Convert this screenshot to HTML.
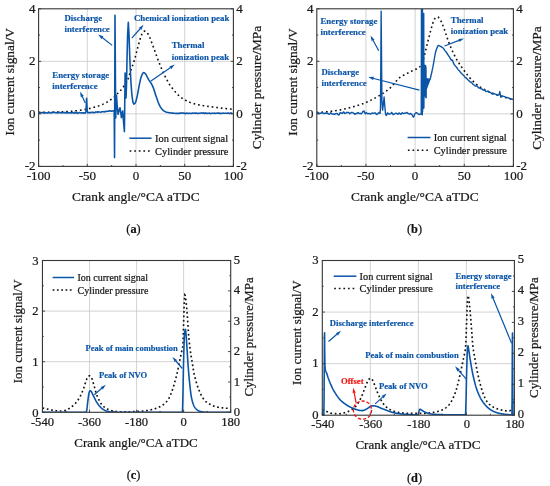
<!DOCTYPE html>
<html lang="en"><head><meta charset="utf-8"><title>Ion current signal and cylinder pressure</title>
<style>html,body{margin:0;padding:0;background:#fff}svg{display:block}text{font-family:"Liberation Serif","Times New Roman",serif}</style></head>
<body>
<svg width="550" height="486" viewBox="0 0 550 486" font-family="'Liberation Serif', 'Times New Roman', serif">
<rect width="550" height="486" fill="#fff"/>
<defs>
<clipPath id="ca"><rect x="38.6" y="8.8" width="194.80" height="157.60"/></clipPath>
<clipPath id="cb"><rect x="316.8" y="8.8" width="196.60" height="157.60"/></clipPath>
<clipPath id="cc"><rect x="42.45" y="260.5" width="188.25" height="151.80"/></clipPath>
<clipPath id="cd"><rect x="322.3" y="260.5" width="192.10" height="154.70"/></clipPath>
</defs>
<line x1="87.30" y1="8.8" x2="87.30" y2="166.4" stroke="#cbcbcb" stroke-width="0.85"/>
<line x1="136.00" y1="8.8" x2="136.00" y2="166.4" stroke="#cbcbcb" stroke-width="0.85"/>
<line x1="184.70" y1="8.8" x2="184.70" y2="166.4" stroke="#cbcbcb" stroke-width="0.85"/>
<line x1="38.6" y1="113.87" x2="233.4" y2="113.87" stroke="#cbcbcb" stroke-width="0.85"/>
<line x1="38.6" y1="61.33" x2="233.4" y2="61.33" stroke="#cbcbcb" stroke-width="0.85"/>
<path d="M38.60,112.40 L39.25,112.40 L39.90,112.40 L40.55,112.39 L41.21,112.39 L41.86,112.39 L42.51,112.38 L43.16,112.37 L43.81,112.37 L44.46,112.36 L45.12,112.35 L45.77,112.34 L46.42,112.33 L47.07,112.32 L47.72,112.30 L48.37,112.29 L49.02,112.28 L49.68,112.26 L50.33,112.25 L50.98,112.23 L51.63,112.22 L52.28,112.20 L52.93,112.19 L53.58,112.17 L54.24,112.16 L54.89,112.14 L55.54,112.12 L56.19,112.11 L56.84,112.09 L57.49,112.07 L58.15,112.05 L58.80,112.03 L59.45,112.00 L60.10,111.97 L60.75,111.95 L61.40,111.92 L62.05,111.89 L62.71,111.85 L63.36,111.82 L64.01,111.79 L64.66,111.75 L65.31,111.71 L65.96,111.68 L66.61,111.64 L67.27,111.60 L67.92,111.56 L68.57,111.52 L69.22,111.48 L69.87,111.44 L70.52,111.39 L71.18,111.34 L71.83,111.28 L72.48,111.22 L73.13,111.16 L73.78,111.09 L74.43,111.01 L75.08,110.94 L75.74,110.85 L76.39,110.77 L77.04,110.68 L77.69,110.58 L78.34,110.49 L78.99,110.39 L79.64,110.29 L80.30,110.19 L80.95,110.09 L81.60,109.99 L82.25,109.89 L82.90,109.78 L83.55,109.67 L84.21,109.56 L84.86,109.44 L85.51,109.33 L86.16,109.20 L86.81,109.08 L87.46,108.95 L88.11,108.81 L88.77,108.67 L89.42,108.53 L90.07,108.38 L90.72,108.22 L91.37,108.05 L92.02,107.88 L92.67,107.70 L93.33,107.51 L93.98,107.32 L94.63,107.13 L95.28,106.93 L95.93,106.73 L96.58,106.53 L97.24,106.32 L97.89,106.11 L98.54,105.89 L99.19,105.67 L99.84,105.43 L100.49,105.19 L101.14,104.94 L101.80,104.68 L102.45,104.41 L103.10,104.14 L103.75,103.85 L104.40,103.55 L105.05,103.23 L105.71,102.89 L106.36,102.53 L107.01,102.14 L107.66,101.74 L108.31,101.32 L108.96,100.89 L109.61,100.46 L110.27,100.02 L110.92,99.59 L111.57,99.15 L112.22,98.68 L112.87,98.19 L113.52,97.66 L114.17,97.08 L114.83,96.42 L115.48,95.74 L116.13,95.06 L116.78,94.38 L117.43,93.68 L118.08,92.98 L118.74,92.28 L119.39,91.59 L120.04,90.92 L120.69,90.25 L121.34,89.54 L121.99,88.76 L122.64,87.91 L123.30,87.01 L123.95,86.06 L124.60,85.10 L125.25,84.13 L125.90,83.11 L126.55,81.98 L127.20,80.75 L127.86,79.39 L128.51,77.81 L129.16,75.87 L129.81,73.77 L130.46,71.71 L131.11,69.80 L131.77,67.93 L132.42,66.04 L133.07,64.14 L133.72,62.25 L134.37,60.25 L135.02,57.99 L135.67,55.45 L136.33,52.90 L136.98,50.44 L137.63,48.00 L138.28,45.59 L138.93,43.20 L139.58,40.92 L140.23,38.68 L140.89,36.63 L141.54,34.99 L142.19,33.55 L142.84,32.48 L143.49,31.82 L144.14,31.31 L144.80,31.10 L145.45,31.27 L146.10,31.71 L146.75,32.26 L147.40,32.96 L148.05,33.94 L148.70,35.12 L149.36,36.41 L150.01,37.90 L150.66,39.66 L151.31,41.49 L151.96,43.24 L152.61,45.00 L153.26,46.77 L153.92,48.55 L154.57,50.34 L155.22,52.15 L155.87,53.96 L156.52,55.75 L157.17,57.49 L157.83,59.20 L158.48,60.89 L159.13,62.55 L159.78,64.22 L160.43,65.90 L161.08,67.57 L161.73,69.19 L162.39,70.74 L163.04,72.19 L163.69,73.59 L164.34,74.93 L164.99,76.23 L165.64,77.51 L166.29,78.76 L166.95,79.99 L167.60,81.20 L168.25,82.35 L168.90,83.44 L169.55,84.46 L170.20,85.43 L170.86,86.35 L171.51,87.24 L172.16,88.11 L172.81,88.95 L173.46,89.77 L174.11,90.56 L174.76,91.33 L175.42,92.07 L176.07,92.80 L176.72,93.51 L177.37,94.19 L178.02,94.83 L178.67,95.44 L179.33,96.03 L179.98,96.60 L180.63,97.14 L181.28,97.64 L181.93,98.10 L182.58,98.54 L183.23,98.96 L183.89,99.35 L184.54,99.73 L185.19,100.09 L185.84,100.44 L186.49,100.78 L187.14,101.11 L187.79,101.44 L188.45,101.75 L189.10,102.04 L189.75,102.31 L190.40,102.56 L191.05,102.80 L191.70,103.02 L192.36,103.23 L193.01,103.43 L193.66,103.62 L194.31,103.80 L194.96,103.97 L195.61,104.14 L196.26,104.30 L196.92,104.45 L197.57,104.59 L198.22,104.73 L198.87,104.86 L199.52,104.99 L200.17,105.11 L200.82,105.23 L201.48,105.34 L202.13,105.45 L202.78,105.56 L203.43,105.67 L204.08,105.77 L204.73,105.87 L205.39,105.97 L206.04,106.07 L206.69,106.16 L207.34,106.25 L207.99,106.34 L208.64,106.44 L209.29,106.53 L209.95,106.62 L210.60,106.71 L211.25,106.80 L211.90,106.89 L212.55,106.98 L213.20,107.06 L213.85,107.15 L214.51,107.24 L215.16,107.32 L215.81,107.41 L216.46,107.49 L217.11,107.57 L217.76,107.66 L218.42,107.74 L219.07,107.82 L219.72,107.90 L220.37,107.98 L221.02,108.06 L221.67,108.13 L222.32,108.21 L222.98,108.28 L223.63,108.35 L224.28,108.42 L224.93,108.49 L225.58,108.56 L226.23,108.62 L226.88,108.69 L227.54,108.75 L228.19,108.82 L228.84,108.88 L229.49,108.94 L230.14,109.01 L230.79,109.07 L231.45,109.13 L232.10,109.19 L232.75,109.24 L233.40,109.30" fill="none" stroke="#111" stroke-width="1.6" stroke-dasharray="1.7 2.9" clip-path="url(#ca)"/>
<path d="M38.60,112.82 L39.40,112.89 L40.20,112.75 L41.00,112.59 L41.80,112.70 L42.60,112.57 L43.40,112.83 L44.20,113.15 L45.00,112.69 L45.80,112.66 L46.60,112.94 L47.40,112.91 L48.20,112.84 L49.00,112.58 L49.80,112.81 L50.60,112.99 L51.40,112.48 L52.20,112.70 L53.00,112.34 L53.80,112.49 L54.60,112.36 L55.40,112.76 L56.20,112.50 L57.00,112.88 L57.80,112.86 L58.60,112.77 L59.40,112.19 L60.20,112.68 L61.00,112.80 L61.80,112.84 L62.60,112.43 L63.40,112.70 L64.20,112.57 L65.00,112.61 L65.80,113.08 L66.60,112.61 L67.40,112.81 L68.20,113.04 L69.00,112.67 L69.80,112.79 L70.60,112.84 L71.40,112.83 L72.20,112.51 L73.00,112.84 L73.80,113.16 L74.60,112.43 L75.40,113.03 L76.20,112.85 L77.00,112.66 L77.80,113.32 L78.60,113.01 L79.40,112.52 L80.20,112.83 L81.00,112.96 L81.80,112.77 L82.60,112.99 L83.40,112.80 L84.20,112.98 L85.00,113.18 L86.00,111.82 L86.60,98.20 L87.20,110.82 L87.80,112.82 L88.40,112.45 L89.20,112.66 L90.00,112.47 L90.80,112.59 L91.60,112.23 L92.40,112.35 L93.20,112.40 L94.00,112.63 L94.80,112.65 L95.60,111.99 L96.40,112.07 L97.20,112.37 L98.00,111.66 L98.80,111.98 L99.60,112.01 L100.40,112.28 L101.20,112.08 L102.00,111.76 L102.80,111.68 L103.60,111.63 L104.40,112.00 L105.20,111.44 L106.00,111.39 L106.80,111.48 L107.60,111.28 L108.40,111.18 L109.20,110.86 L110.00,111.05 L110.80,110.86 L111.60,111.17 L112.40,110.95 L113.20,110.69 L114.20,111.00 L114.55,157.60 L115.00,15.20 L115.70,118.00 L116.50,95.40 L117.20,106.00 L118.10,114.30 L119.20,110.00 L120.00,107.70 L120.80,113.00 L121.40,117.60 L122.10,113.00 L122.70,111.00 L123.40,120.00 L124.40,131.60 L124.80,100.00 L125.10,73.00 L125.50,90.00 L126.00,97.90 L126.50,85.00 L127.00,60.00 L127.60,35.00 L128.30,22.30 L129.00,34.00 L129.80,58.00 L130.80,80.00 L131.80,94.00 L132.80,101.50 L133.70,104.10 L134.22,103.93 L134.75,103.50 L135.27,102.91 L135.79,101.69 L136.31,99.81 L136.84,97.67 L137.36,95.41 L137.88,92.71 L138.41,89.77 L138.93,86.86 L139.45,84.22 L139.97,81.82 L140.50,79.47 L141.02,77.41 L141.54,75.90 L142.06,74.70 L142.59,73.62 L143.11,72.87 L143.63,72.60 L144.16,72.74 L144.68,73.07 L145.20,73.52 L145.72,74.05 L146.25,74.92 L146.77,76.01 L147.29,77.11 L147.82,78.07 L148.34,79.03 L148.86,79.96 L149.38,80.82 L149.91,81.56 L150.43,82.21 L150.95,82.92 L151.47,83.80 L152.00,84.80 L152.52,85.90 L153.04,87.10 L153.57,88.47 L154.09,90.01 L154.61,91.66 L155.13,93.34 L155.66,94.98 L156.18,96.52 L156.70,98.07 L157.23,99.61 L157.75,101.09 L158.27,102.45 L158.79,103.67 L159.32,104.82 L159.84,105.90 L160.36,106.86 L160.88,107.68 L161.41,108.39 L161.93,109.07 L162.45,109.69 L162.98,110.23 L163.50,110.67 L164.02,111.01 L164.54,111.28 L165.07,111.53 L165.59,111.76 L166.11,111.96 L166.64,112.15 L167.16,112.31 L167.68,112.45 L168.20,112.56 L168.73,112.66 L169.25,112.73 L169.77,112.80 L170.29,112.87 L170.82,112.93 L171.34,112.99 L171.86,113.04 L172.39,113.09 L172.91,113.12 L173.43,113.16 L173.95,113.18 L174.48,113.19 L175.00,113.20 L175.80,113.43 L176.60,113.23 L177.40,113.51 L178.20,113.30 L179.00,113.42 L179.80,113.04 L180.60,113.37 L181.40,112.96 L182.20,112.89 L183.00,113.24 L183.80,113.12 L184.60,113.33 L185.40,113.75 L186.20,113.13 L187.00,113.18 L187.80,113.34 L188.60,113.40 L189.40,113.26 L190.20,113.26 L191.00,113.44 L191.80,113.40 L192.60,113.09 L193.40,113.28 L194.20,113.31 L195.00,113.09 L195.80,113.35 L196.60,113.13 L197.40,113.49 L198.20,113.34 L199.00,113.32 L199.80,113.18 L200.60,113.28 L201.40,112.90 L202.20,113.07 L203.00,113.37 L203.80,112.87 L204.60,113.47 L205.40,112.95 L206.20,113.45 L207.00,113.13 L207.80,113.46 L208.60,113.33 L209.40,112.99 L210.20,113.55 L211.00,113.59 L211.80,113.29 L212.60,113.25 L213.40,113.27 L214.20,113.10 L215.00,113.52 L215.80,113.19 L216.60,113.29 L217.40,113.14 L218.20,113.17 L219.00,113.04 L219.80,113.55 L220.60,113.27 L221.40,113.49 L222.20,113.30 L223.00,113.16 L223.80,113.23 L224.60,113.19 L225.40,113.30 L226.20,113.22 L227.00,113.24 L227.80,113.02 L228.60,113.14 L229.40,113.63 L230.20,113.17 L231.00,113.09 L231.80,113.37 L232.60,113.58" fill="none" stroke="#0b55a8" stroke-width="1.6" stroke-linejoin="round" clip-path="url(#ca)"/>
<rect x="38.6" y="8.8" width="194.80" height="157.60" fill="none" stroke="#363636" stroke-width="1.1"/>
<path d="M38.60,166.4v-2.6M87.30,166.4v-2.6M136.00,166.4v-2.6M184.70,166.4v-2.6M233.40,166.4v-2.6M62.95,166.4v-1.4M111.65,166.4v-1.4M160.35,166.4v-1.4M209.05,166.4v-1.4M38.6,166.40h2.6M38.6,113.87h2.6M38.6,61.33h2.6M38.6,8.80h2.6M38.6,140.13h1.4M38.6,87.60h1.4M38.6,35.07h1.4M233.4,166.40h-2.6M233.4,113.87h-2.6M233.4,61.33h-2.6M233.4,8.80h-2.6M233.4,140.13h-1.4M233.4,87.60h-1.4M233.4,35.07h-1.4" stroke="#363636" stroke-width="0.9" fill="none"/>
<text x="35.60" y="12.60" font-size="13.0" text-anchor="end" font-weight="normal" fill="#1a1a1a" stroke="#1a1a1a" stroke-width="0.24">4</text>
<text x="236.20" y="12.60" font-size="13.0" text-anchor="start" font-weight="normal" fill="#1a1a1a" stroke="#1a1a1a" stroke-width="0.24">4</text>
<text x="35.60" y="65.13" font-size="13.0" text-anchor="end" font-weight="normal" fill="#1a1a1a" stroke="#1a1a1a" stroke-width="0.24">2</text>
<text x="236.20" y="65.13" font-size="13.0" text-anchor="start" font-weight="normal" fill="#1a1a1a" stroke="#1a1a1a" stroke-width="0.24">2</text>
<text x="35.60" y="117.67" font-size="13.0" text-anchor="end" font-weight="normal" fill="#1a1a1a" stroke="#1a1a1a" stroke-width="0.24">0</text>
<text x="236.20" y="117.67" font-size="13.0" text-anchor="start" font-weight="normal" fill="#1a1a1a" stroke="#1a1a1a" stroke-width="0.24">0</text>
<text x="35.60" y="170.20" font-size="13.0" text-anchor="end" font-weight="normal" fill="#1a1a1a" stroke="#1a1a1a" stroke-width="0.24">-2</text>
<text x="236.20" y="170.20" font-size="13.0" text-anchor="start" font-weight="normal" fill="#1a1a1a" stroke="#1a1a1a" stroke-width="0.24">-2</text>
<text x="38.60" y="180.30" font-size="13.0" text-anchor="middle" font-weight="normal" fill="#1a1a1a" stroke="#1a1a1a" stroke-width="0.24">-100</text>
<text x="87.30" y="180.30" font-size="13.0" text-anchor="middle" font-weight="normal" fill="#1a1a1a" stroke="#1a1a1a" stroke-width="0.24">-50</text>
<text x="136.00" y="180.30" font-size="13.0" text-anchor="middle" font-weight="normal" fill="#1a1a1a" stroke="#1a1a1a" stroke-width="0.24">0</text>
<text x="184.70" y="180.30" font-size="13.0" text-anchor="middle" font-weight="normal" fill="#1a1a1a" stroke="#1a1a1a" stroke-width="0.24">50</text>
<text x="233.40" y="180.30" font-size="13.0" text-anchor="middle" font-weight="normal" fill="#1a1a1a" stroke="#1a1a1a" stroke-width="0.24">100</text>
<text x="72.00" y="200.90" font-size="13.35" text-anchor="start" font-weight="normal" fill="#1a1a1a" stroke="#1a1a1a" stroke-width="0.24">Crank angle/°CA aTDC</text>
<text x="14.40" y="135.50" font-size="13.35" text-anchor="start" font-weight="normal" fill="#1a1a1a" stroke="#1a1a1a" stroke-width="0.24" transform="rotate(-90 14.40 135.50)">Ion current signal/V</text>
<text x="261.20" y="149.20" font-size="13.35" text-anchor="start" font-weight="normal" fill="#1a1a1a" stroke="#1a1a1a" stroke-width="0.24" transform="rotate(-90 261.20 149.20)">Cylinder pressure/MPa</text>
<line x1="129.3" y1="138.2" x2="151.6" y2="138.2" stroke="#0b55a8" stroke-width="1.5"/>
<line x1="129.6" y1="150.9" x2="151.6" y2="150.9" stroke="#111" stroke-width="1.5" stroke-dasharray="1.7 2.9"/>
<text x="155.10" y="141.50" font-size="10.35" text-anchor="start" font-weight="normal" fill="#1a1a1a" stroke="#1a1a1a" stroke-width="0.24">Ion current signal</text>
<text x="155.10" y="154.60" font-size="10.35" text-anchor="start" font-weight="normal" fill="#1a1a1a" stroke="#1a1a1a" stroke-width="0.24">Cylinder pressure</text>
<text x="64.50" y="20.80" font-size="8.8" text-anchor="start" font-weight="bold" fill="#0b55a8" stroke="#0b55a8" stroke-width="0.16">Discharge</text>
<text x="64.50" y="31.80" font-size="8.8" text-anchor="start" font-weight="bold" fill="#0b55a8" stroke="#0b55a8" stroke-width="0.16">interference</text>
<line x1="112.20" y1="45.40" x2="101.82" y2="37.24" stroke="#0b55a8" stroke-width="1.2"/>
<polygon points="98.20,34.40 103.65,36.52 102.13,37.49 101.55,39.20" fill="#0b55a8"/>
<text x="52.30" y="77.80" font-size="8.8" text-anchor="start" font-weight="bold" fill="#0b55a8" stroke="#0b55a8" stroke-width="0.16">Energy storage</text>
<text x="52.30" y="88.50" font-size="8.8" text-anchor="start" font-weight="bold" fill="#0b55a8" stroke="#0b55a8" stroke-width="0.16">interference</text>
<line x1="85.30" y1="103.00" x2="81.95" y2="95.86" stroke="#0b55a8" stroke-width="1.2"/>
<polygon points="80.00,91.70 83.92,96.05 82.12,96.23 80.84,97.49" fill="#0b55a8"/>
<text x="134.00" y="20.70" font-size="8.8" text-anchor="start" font-weight="bold" fill="#0b55a8" stroke="#0b55a8" stroke-width="0.16">Chemical ionization peak</text>
<line x1="131.80" y1="38.20" x2="140.56" y2="28.25" stroke="#0b55a8" stroke-width="1.2"/>
<polygon points="143.60,24.80 141.17,30.13 140.30,28.55 138.62,27.88" fill="#0b55a8"/>
<text x="171.70" y="48.00" font-size="8.8" text-anchor="start" font-weight="bold" fill="#0b55a8" stroke="#0b55a8" stroke-width="0.16">Thermal</text>
<text x="171.70" y="59.60" font-size="8.8" text-anchor="start" font-weight="bold" fill="#0b55a8" stroke="#0b55a8" stroke-width="0.16">ionization peak</text>
<line x1="150.90" y1="81.10" x2="171.01" y2="67.21" stroke="#0b55a8" stroke-width="1.2"/>
<polygon points="174.80,64.60 171.16,69.18 170.69,67.44 169.23,66.38" fill="#0b55a8"/>
<text x="126.30" y="232.60" font-size="12.3" fill="#111" stroke="#111" stroke-width="0.2"><tspan>(</tspan><tspan font-weight="bold">a</tspan><tspan>)</tspan></text>
<line x1="365.95" y1="8.8" x2="365.95" y2="166.4" stroke="#cbcbcb" stroke-width="0.85"/>
<line x1="415.10" y1="8.8" x2="415.10" y2="166.4" stroke="#cbcbcb" stroke-width="0.85"/>
<line x1="464.25" y1="8.8" x2="464.25" y2="166.4" stroke="#cbcbcb" stroke-width="0.85"/>
<line x1="316.8" y1="113.87" x2="513.4" y2="113.87" stroke="#cbcbcb" stroke-width="0.85"/>
<line x1="316.8" y1="61.33" x2="513.4" y2="61.33" stroke="#cbcbcb" stroke-width="0.85"/>
<path d="M316.80,112.55 L317.29,112.53 L317.79,112.50 L318.28,112.48 L318.77,112.45 L319.26,112.42 L319.76,112.38 L320.25,112.35 L320.74,112.31 L321.23,112.28 L321.73,112.24 L322.22,112.20 L322.71,112.16 L323.21,112.11 L323.70,112.07 L324.19,112.02 L324.68,111.98 L325.18,111.93 L325.67,111.88 L326.16,111.83 L326.65,111.78 L327.15,111.73 L327.64,111.68 L328.13,111.63 L328.63,111.57 L329.12,111.52 L329.61,111.46 L330.10,111.41 L330.60,111.35 L331.09,111.29 L331.58,111.24 L332.07,111.18 L332.57,111.11 L333.06,111.05 L333.55,110.98 L334.05,110.91 L334.54,110.84 L335.03,110.77 L335.52,110.69 L336.02,110.62 L336.51,110.54 L337.00,110.46 L337.49,110.37 L337.99,110.29 L338.48,110.20 L338.97,110.11 L339.47,110.02 L339.96,109.93 L340.45,109.84 L340.94,109.75 L341.44,109.65 L341.93,109.56 L342.42,109.45 L342.91,109.35 L343.41,109.24 L343.90,109.14 L344.39,109.02 L344.89,108.91 L345.38,108.79 L345.87,108.67 L346.36,108.55 L346.86,108.43 L347.35,108.31 L347.84,108.18 L348.33,108.05 L348.83,107.93 L349.32,107.80 L349.81,107.67 L350.31,107.54 L350.80,107.41 L351.29,107.28 L351.78,107.15 L352.28,107.02 L352.77,106.88 L353.26,106.75 L353.75,106.62 L354.25,106.48 L354.74,106.35 L355.23,106.21 L355.73,106.07 L356.22,105.93 L356.71,105.79 L357.20,105.64 L357.70,105.49 L358.19,105.34 L358.68,105.19 L359.17,105.03 L359.67,104.87 L360.16,104.71 L360.65,104.54 L361.15,104.37 L361.64,104.20 L362.13,104.02 L362.62,103.83 L363.12,103.64 L363.61,103.45 L364.10,103.25 L364.59,103.04 L365.09,102.84 L365.58,102.63 L366.07,102.42 L366.57,102.20 L367.06,101.98 L367.55,101.76 L368.04,101.53 L368.54,101.31 L369.03,101.08 L369.52,100.85 L370.02,100.61 L370.51,100.38 L371.00,100.14 L371.49,99.90 L371.99,99.66 L372.48,99.41 L372.97,99.16 L373.46,98.90 L373.96,98.64 L374.45,98.38 L374.94,98.11 L375.44,97.84 L375.93,97.57 L376.42,97.29 L376.91,97.01 L377.41,96.73 L377.90,96.44 L378.39,96.16 L378.88,95.87 L379.38,95.57 L379.87,95.28 L380.36,94.98 L380.86,94.68 L381.35,94.38 L381.84,94.07 L382.33,93.75 L382.83,93.44 L383.32,93.11 L383.81,92.78 L384.30,92.45 L384.80,92.11 L385.29,91.77 L385.78,91.42 L386.28,91.06 L386.77,90.69 L387.26,90.32 L387.75,89.94 L388.25,89.54 L388.74,89.14 L389.23,88.73 L389.72,88.31 L390.22,87.88 L390.71,87.43 L391.20,86.95 L391.70,86.45 L392.19,85.92 L392.68,85.37 L393.17,84.80 L393.67,84.21 L394.16,83.62 L394.65,83.02 L395.14,82.43 L395.64,81.83 L396.13,81.25 L396.62,80.67 L397.12,80.11 L397.61,79.58 L398.10,79.07 L398.59,78.58 L399.09,78.13 L399.58,77.72 L400.07,77.35 L400.56,77.00 L401.06,76.68 L401.55,76.37 L402.04,76.07 L402.54,75.79 L403.03,75.52 L403.52,75.25 L404.01,75.00 L404.51,74.75 L405.00,74.51 L405.49,74.27 L405.98,74.04 L406.48,73.80 L406.97,73.56 L407.46,73.33 L407.96,73.08 L408.45,72.83 L408.94,72.58 L409.43,72.32 L409.93,72.04 L410.42,71.77 L410.91,71.51 L411.40,71.27 L411.90,71.05 L412.39,70.83 L412.88,70.62 L413.38,70.41 L413.87,70.21 L414.36,70.00 L414.85,69.79 L415.35,69.57 L415.84,69.33 L416.33,69.09 L416.82,68.83 L417.32,68.55 L417.81,68.25 L418.30,67.92 L418.80,67.56 L419.29,67.18 L419.78,66.76 L420.27,66.30 L420.77,65.80 L421.26,65.26 L421.75,64.56 L422.24,63.40 L422.74,61.87 L423.23,60.10 L423.72,58.18 L424.22,56.24 L424.71,54.37 L425.20,52.49 L425.69,50.47 L426.19,48.39 L426.68,46.32 L427.17,44.30 L427.66,42.30 L428.16,40.31 L428.65,38.32 L429.14,36.37 L429.64,34.46 L430.13,32.58 L430.62,30.72 L431.11,28.90 L431.61,27.16 L432.10,25.47 L432.59,23.76 L433.08,22.16 L433.58,20.86 L434.07,19.88 L434.56,19.03 L435.06,18.33 L435.55,17.84 L436.04,17.49 L436.53,17.19 L437.03,16.98 L437.52,16.90 L438.01,17.06 L438.50,17.46 L439.00,17.97 L439.49,18.52 L439.98,19.23 L440.48,20.09 L440.97,21.04 L441.46,22.03 L441.95,23.13 L442.45,24.31 L442.94,25.57 L443.43,26.87 L443.92,28.21 L444.42,29.55 L444.91,30.94 L445.40,32.40 L445.90,33.91 L446.39,35.42 L446.88,36.93 L447.37,38.38 L447.87,39.76 L448.36,41.10 L448.85,42.42 L449.34,43.71 L449.84,44.97 L450.33,46.18 L450.82,47.35 L451.32,48.50 L451.81,49.62 L452.30,50.73 L452.79,51.81 L453.29,52.88 L453.78,53.92 L454.27,54.93 L454.76,55.92 L455.26,56.88 L455.75,57.81 L456.24,58.70 L456.74,59.56 L457.23,60.40 L457.72,61.22 L458.21,62.01 L458.71,62.79 L459.20,63.55 L459.69,64.29 L460.18,65.02 L460.68,65.74 L461.17,66.45 L461.66,67.15 L462.16,67.85 L462.65,68.54 L463.14,69.22 L463.63,69.91 L464.13,70.59 L464.62,71.28 L465.11,71.95 L465.61,72.63 L466.10,73.29 L466.59,73.95 L467.08,74.59 L467.58,75.22 L468.07,75.83 L468.56,76.43 L469.05,77.00 L469.55,77.55 L470.04,78.09 L470.53,78.62 L471.03,79.15 L471.52,79.67 L472.01,80.18 L472.50,80.68 L473.00,81.17 L473.49,81.65 L473.98,82.12 L474.47,82.59 L474.97,83.04 L475.46,83.48 L475.95,83.90 L476.45,84.31 L476.94,84.71 L477.43,85.10 L477.92,85.47 L478.42,85.83 L478.91,86.17 L479.40,86.51 L479.89,86.84 L480.39,87.16 L480.88,87.47 L481.37,87.77 L481.87,88.06 L482.36,88.35 L482.85,88.63 L483.34,88.90 L483.84,89.17 L484.33,89.44 L484.82,89.70 L485.31,89.95 L485.81,90.20 L486.30,90.45 L486.79,90.69 L487.29,90.93 L487.78,91.17 L488.27,91.40 L488.76,91.62 L489.26,91.85 L489.75,92.07 L490.24,92.28 L490.73,92.49 L491.23,92.70 L491.72,92.90 L492.21,93.10 L492.71,93.30 L493.20,93.49 L493.69,93.68 L494.18,93.87 L494.68,94.05 L495.17,94.23 L495.66,94.41 L496.15,94.59 L496.65,94.76 L497.14,94.93 L497.63,95.10 L498.13,95.27 L498.62,95.43 L499.11,95.59 L499.60,95.75 L500.10,95.91 L500.59,96.06 L501.08,96.22 L501.57,96.37 L502.07,96.52 L502.56,96.67 L503.05,96.82 L503.55,96.96 L504.04,97.11 L504.53,97.25 L505.02,97.39 L505.52,97.54 L506.01,97.68 L506.50,97.81 L506.99,97.95 L507.49,98.09 L507.98,98.22 L508.47,98.36 L508.97,98.49 L509.46,98.62 L509.95,98.75 L510.44,98.87 L510.94,99.00 L511.43,99.12 L511.92,99.24 L512.41,99.36 L512.91,99.48 L513.40,99.60" fill="none" stroke="#111" stroke-width="1.6" stroke-dasharray="1.7 2.9" clip-path="url(#cb)"/>
<path d="M316.80,112.58 L317.35,112.43 L317.90,112.63 L318.45,113.12 L319.00,113.67 L319.55,113.17 L320.10,113.24 L320.65,113.16 L321.20,113.26 L321.75,112.77 L322.30,112.42 L322.85,112.92 L323.40,113.42 L323.95,113.73 L324.50,113.35 L325.05,113.33 L325.60,113.01 L326.15,113.23 L326.70,113.41 L327.25,113.43 L327.80,113.23 L328.35,113.76 L328.90,114.18 L329.45,114.25 L330.00,113.62 L330.55,112.80 L331.10,112.90 L331.65,113.69 L332.20,114.12 L332.75,113.86 L333.30,113.87 L333.85,114.23 L334.40,114.37 L334.95,113.95 L335.50,114.03 L336.05,113.51 L336.60,113.65 L337.15,113.54 L337.70,114.23 L338.25,114.62 L338.80,115.08 L339.35,114.34 L339.90,112.80 L340.45,112.51 L341.00,112.84 L341.55,113.21 L342.10,113.33 L342.65,113.21 L343.20,112.21 L343.75,111.95 L344.30,112.81 L344.85,113.43 L345.40,113.32 L345.95,113.04 L346.50,112.50 L347.05,112.35 L347.60,112.47 L348.15,112.33 L348.70,112.48 L349.25,113.04 L349.80,113.69 L350.35,113.22 L350.90,112.86 L351.45,112.41 L352.00,112.41 L352.55,112.71 L353.10,112.91 L353.65,113.23 L354.20,113.41 L354.75,114.38 L355.30,113.97 L355.85,113.76 L356.40,113.30 L356.95,113.66 L357.50,112.86 L358.05,112.57 L358.60,112.94 L359.15,113.55 L359.70,113.65 L360.25,113.31 L360.80,113.69 L361.35,113.82 L361.90,113.03 L362.45,112.14 L363.00,111.64 L363.55,111.13 L364.10,111.04 L364.65,112.49 L365.20,113.85 L365.75,113.48 L366.30,112.55 L366.85,112.95 L367.40,113.65 L367.95,113.88 L368.50,113.46 L369.05,113.41 L369.60,113.68 L370.15,113.97 L370.70,114.01 L371.25,113.33 L371.80,113.17 L372.35,113.04 L372.90,113.64 L373.45,113.23 L374.00,113.15 L374.55,112.90 L375.10,112.89 L375.65,113.38 L376.20,114.24 L376.75,114.51 L377.30,113.96 L377.85,113.73 L378.40,112.94 L378.95,112.41 L379.50,112.59 L380.05,113.49 L380.50,108.00 L381.15,11.30 L381.90,100.00 L382.60,110.20 L383.40,104.00 L384.10,97.00 L384.80,106.00 L385.50,113.50 L386.20,115.60 L387.00,114.20 L387.70,112.84 L388.25,113.63 L388.80,114.00 L389.35,113.96 L389.90,114.04 L390.45,113.91 L391.00,113.54 L391.55,112.40 L392.10,112.97 L392.65,113.83 L393.20,114.70 L393.75,114.39 L394.30,114.06 L394.85,113.76 L395.40,113.45 L395.95,113.29 L396.50,113.24 L397.05,113.88 L397.60,114.31 L398.15,114.16 L398.70,113.36 L399.25,112.89 L399.80,113.46 L400.35,114.09 L400.90,114.21 L401.45,113.49 L402.00,112.88 L402.55,112.75 L403.10,113.29 L403.65,113.64 L404.20,113.44 L404.75,113.08 L405.30,113.26 L405.85,112.82 L406.40,112.62 L406.95,112.45 L407.50,113.23 L408.05,113.25 L408.60,113.55 L409.15,113.93 L409.70,114.22 L410.25,113.67 L410.80,113.38 L411.35,114.02 L411.90,114.57 L412.45,115.35 L413.00,116.72 L413.55,117.07 L414.10,115.95 L414.65,114.09 L415.20,113.55 L415.75,112.98 L416.30,112.62 L416.85,112.92 L417.40,113.30 L417.95,113.80 L418.50,114.11 L419.05,114.56 L419.60,114.24 L420.15,114.42 L420.70,114.42 L421.25,113.78 L421.50,-10.00 L421.66,110.67 L421.82,-10.00 L421.98,111.12 L422.14,-10.00 L422.30,114.80 L422.46,-10.00 L422.62,111.42 L422.78,15.01 L422.94,108.13 L423.10,14.55 L423.26,108.58 L423.42,15.37 L423.58,107.55 L423.74,13.34 L423.90,107.92 L424.06,68.88 L424.22,96.01 L424.38,68.66 L424.54,95.50 L424.70,65.27 L424.86,94.10 L425.02,68.04 L425.18,94.96 L425.34,68.40 L425.50,96.99 L425.66,65.67 L425.82,93.90 L425.98,67.39 L426.14,97.72 L426.30,78.63 L426.46,88.79 L426.62,78.72 L426.78,87.93 L426.94,78.81 L427.10,87.06 L427.26,78.90 L427.42,86.19 L427.58,78.99 L427.74,85.32 L427.90,79.09 L428.06,84.45 L428.22,79.18 L428.38,83.58 L428.54,79.27 L428.70,82.71 L428.86,79.36 L429.02,81.85 L429.18,79.45 L429.34,80.98 L429.50,79.54 L429.66,80.11 L430.20,78.99 L430.72,76.74 L431.25,74.48 L431.77,72.30 L432.29,69.95 L432.82,67.46 L433.34,64.71 L433.86,61.72 L434.39,58.50 L434.91,55.50 L435.43,52.75 L435.96,50.75 L436.48,49.27 L437.00,47.89 L437.53,46.59 L438.05,45.65 L438.57,45.56 L439.10,45.57 L439.62,45.89 L440.14,46.16 L440.67,46.51 L441.19,46.70 L441.71,47.05 L442.24,47.32 L442.76,47.74 L443.28,48.30 L443.81,48.93 L444.33,49.62 L444.85,50.33 L445.37,51.07 L445.90,51.73 L446.42,52.46 L446.94,53.26 L447.47,54.02 L447.99,54.78 L448.51,55.57 L449.04,56.39 L449.56,57.19 L450.08,58.04 L450.61,58.99 L451.13,59.77 L451.65,60.37 L452.18,60.08 L452.70,60.61 L453.22,62.56 L453.75,63.59 L454.27,64.65 L454.79,65.21 L455.32,65.94 L455.84,66.41 L456.36,67.07 L456.89,67.75 L457.41,68.51 L457.93,69.35 L458.46,69.94 L458.98,70.40 L459.50,70.86 L460.03,71.56 L460.55,72.53 L461.07,73.07 L461.60,73.57 L462.12,73.78 L462.64,74.53 L463.17,75.07 L463.69,75.53 L464.21,75.92 L464.74,76.91 L465.26,77.54 L465.78,77.73 L466.31,77.94 L466.83,78.51 L467.35,79.21 L467.88,79.76 L468.40,80.22 L468.92,80.72 L469.45,81.25 L469.97,81.80 L470.49,82.04 L471.02,82.30 L471.54,82.32 L472.06,83.16 L472.58,83.89 L473.11,84.50 L473.63,84.58 L474.15,85.00 L474.68,85.33 L475.20,85.99 L475.72,86.23 L476.25,86.13 L476.77,85.94 L477.29,86.24 L477.82,86.91 L478.34,87.63 L478.86,87.99 L479.39,87.83 L479.91,87.90 L480.43,88.62 L480.96,88.74 L481.48,88.91 L482.00,88.94 L482.53,89.73 L483.05,89.82 L483.57,90.07 L484.10,89.92 L484.62,90.09 L485.14,90.61 L485.67,91.34 L486.19,91.61 L486.71,91.38 L487.24,91.10 L487.76,91.24 L488.28,91.66 L488.81,92.17 L489.33,92.40 L489.85,92.40 L490.38,92.53 L490.90,92.78 L491.42,93.35 L491.95,93.92 L492.47,94.11 L492.99,93.83 L493.52,93.64 L494.04,93.77 L494.56,93.91 L495.09,94.06 L495.61,94.18 L496.13,94.49 L496.66,94.72 L497.18,95.04 L497.70,95.07 L498.23,95.08 L498.75,94.95 L499.27,93.88 L499.79,91.55 L500.32,94.61 L500.84,97.21 L501.36,96.79 L501.89,96.03 L502.41,95.98 L502.93,96.18 L503.46,96.32 L503.98,96.37 L504.50,96.55 L505.03,96.90 L505.55,97.38 L506.07,97.44 L506.60,97.50 L507.12,97.52 L507.64,97.68 L508.17,97.85 L508.69,98.17 L509.21,98.21 L509.74,98.43 L510.26,98.69 L510.78,99.02 L511.31,99.06 L511.83,99.27 L512.35,99.24 L512.88,99.43 L513.40,99.67" fill="none" stroke="#0b55a8" stroke-width="1.4" stroke-linejoin="round" clip-path="url(#cb)"/>
<rect x="316.8" y="8.8" width="196.60" height="157.60" fill="none" stroke="#363636" stroke-width="1.1"/>
<path d="M316.80,166.4v-2.6M365.95,166.4v-2.6M415.10,166.4v-2.6M464.25,166.4v-2.6M513.40,166.4v-2.6M341.38,166.4v-1.4M390.52,166.4v-1.4M439.68,166.4v-1.4M488.82,166.4v-1.4M316.8,166.40h2.6M316.8,113.87h2.6M316.8,61.33h2.6M316.8,8.80h2.6M316.8,140.13h1.4M316.8,87.60h1.4M316.8,35.07h1.4M513.4,166.40h-2.6M513.4,113.87h-2.6M513.4,61.33h-2.6M513.4,8.80h-2.6M513.4,140.13h-1.4M513.4,87.60h-1.4M513.4,35.07h-1.4" stroke="#363636" stroke-width="0.9" fill="none"/>
<text x="313.40" y="12.60" font-size="13.0" text-anchor="end" font-weight="normal" fill="#1a1a1a" stroke="#1a1a1a" stroke-width="0.24">4</text>
<text x="516.20" y="12.60" font-size="13.0" text-anchor="start" font-weight="normal" fill="#1a1a1a" stroke="#1a1a1a" stroke-width="0.24">4</text>
<text x="313.40" y="65.13" font-size="13.0" text-anchor="end" font-weight="normal" fill="#1a1a1a" stroke="#1a1a1a" stroke-width="0.24">2</text>
<text x="516.20" y="65.13" font-size="13.0" text-anchor="start" font-weight="normal" fill="#1a1a1a" stroke="#1a1a1a" stroke-width="0.24">2</text>
<text x="313.40" y="117.67" font-size="13.0" text-anchor="end" font-weight="normal" fill="#1a1a1a" stroke="#1a1a1a" stroke-width="0.24">0</text>
<text x="516.20" y="117.67" font-size="13.0" text-anchor="start" font-weight="normal" fill="#1a1a1a" stroke="#1a1a1a" stroke-width="0.24">0</text>
<text x="313.40" y="170.20" font-size="13.0" text-anchor="end" font-weight="normal" fill="#1a1a1a" stroke="#1a1a1a" stroke-width="0.24">-2</text>
<text x="516.20" y="170.20" font-size="13.0" text-anchor="start" font-weight="normal" fill="#1a1a1a" stroke="#1a1a1a" stroke-width="0.24">-2</text>
<text x="316.80" y="180.30" font-size="13.0" text-anchor="middle" font-weight="normal" fill="#1a1a1a" stroke="#1a1a1a" stroke-width="0.24">-100</text>
<text x="365.95" y="180.30" font-size="13.0" text-anchor="middle" font-weight="normal" fill="#1a1a1a" stroke="#1a1a1a" stroke-width="0.24">-50</text>
<text x="415.10" y="180.30" font-size="13.0" text-anchor="middle" font-weight="normal" fill="#1a1a1a" stroke="#1a1a1a" stroke-width="0.24">0</text>
<text x="464.25" y="180.30" font-size="13.0" text-anchor="middle" font-weight="normal" fill="#1a1a1a" stroke="#1a1a1a" stroke-width="0.24">50</text>
<text x="513.40" y="180.30" font-size="13.0" text-anchor="middle" font-weight="normal" fill="#1a1a1a" stroke="#1a1a1a" stroke-width="0.24">100</text>
<text x="351.00" y="200.90" font-size="13.35" text-anchor="start" font-weight="normal" fill="#1a1a1a" stroke="#1a1a1a" stroke-width="0.24">Crank angle/°CA aTDC</text>
<text x="296.90" y="135.80" font-size="13.35" text-anchor="start" font-weight="normal" fill="#1a1a1a" stroke="#1a1a1a" stroke-width="0.24" transform="rotate(-90 296.90 135.80)">Ion current signal/V</text>
<text x="540.90" y="149.70" font-size="13.35" text-anchor="start" font-weight="normal" fill="#1a1a1a" stroke="#1a1a1a" stroke-width="0.24" transform="rotate(-90 540.90 149.70)">Cylinder pressure/MPa</text>
<line x1="407.6" y1="137.5" x2="430.5" y2="137.5" stroke="#0b55a8" stroke-width="1.5"/>
<line x1="407.9" y1="150.2" x2="430.5" y2="150.2" stroke="#111" stroke-width="1.5" stroke-dasharray="1.7 2.9"/>
<text x="433.70" y="141.00" font-size="10.35" text-anchor="start" font-weight="normal" fill="#1a1a1a" stroke="#1a1a1a" stroke-width="0.24">Ion current signal</text>
<text x="433.70" y="153.80" font-size="10.35" text-anchor="start" font-weight="normal" fill="#1a1a1a" stroke="#1a1a1a" stroke-width="0.24">Cylinder pressure</text>
<text x="320.50" y="23.50" font-size="8.8" text-anchor="start" font-weight="bold" fill="#0b55a8" stroke="#0b55a8" stroke-width="0.16">Energy storage</text>
<text x="320.50" y="34.80" font-size="8.8" text-anchor="start" font-weight="bold" fill="#0b55a8" stroke="#0b55a8" stroke-width="0.16">interference</text>
<line x1="378.70" y1="50.80" x2="372.67" y2="39.55" stroke="#0b55a8" stroke-width="1.2"/>
<polygon points="370.50,35.50 374.64,39.63 372.86,39.91 371.65,41.24" fill="#0b55a8"/>
<text x="321.50" y="74.50" font-size="8.8" text-anchor="start" font-weight="bold" fill="#0b55a8" stroke="#0b55a8" stroke-width="0.16">Discharge</text>
<text x="321.50" y="86.00" font-size="8.8" text-anchor="start" font-weight="bold" fill="#0b55a8" stroke="#0b55a8" stroke-width="0.16">interference</text>
<line x1="419.40" y1="90.10" x2="372.76" y2="78.23" stroke="#0b55a8" stroke-width="1.2"/>
<polygon points="368.30,77.10 374.15,76.83 373.15,78.33 373.31,80.13" fill="#0b55a8"/>
<text x="450.80" y="23.00" font-size="8.8" text-anchor="start" font-weight="bold" fill="#0b55a8" stroke="#0b55a8" stroke-width="0.16">Thermal</text>
<text x="450.80" y="34.10" font-size="8.8" text-anchor="start" font-weight="bold" fill="#0b55a8" stroke="#0b55a8" stroke-width="0.16">ionization peak</text>
<line x1="444.50" y1="46.00" x2="459.71" y2="40.15" stroke="#0b55a8" stroke-width="1.2"/>
<polygon points="464.00,38.50 459.38,42.10 459.33,40.29 458.16,38.92" fill="#0b55a8"/>
<text x="407.00" y="233.00" font-size="12.3" fill="#111" stroke="#111" stroke-width="0.2"><tspan>(</tspan><tspan font-weight="bold">b</tspan><tspan>)</tspan></text>
<line x1="89.51" y1="260.5" x2="89.51" y2="412.3" stroke="#cbcbcb" stroke-width="0.85"/>
<line x1="136.57" y1="260.5" x2="136.57" y2="412.3" stroke="#cbcbcb" stroke-width="0.85"/>
<line x1="183.64" y1="260.5" x2="183.64" y2="412.3" stroke="#cbcbcb" stroke-width="0.85"/>
<line x1="42.45" y1="361.70" x2="230.7" y2="361.70" stroke="#cbcbcb" stroke-width="0.85"/>
<line x1="42.45" y1="311.10" x2="230.7" y2="311.10" stroke="#cbcbcb" stroke-width="0.85"/>
<path d="M42.50,408.00 L42.81,408.07 L43.13,408.14 L43.44,408.21 L43.76,408.28 L44.07,408.35 L44.39,408.42 L44.70,408.49 L45.01,408.56 L45.33,408.62 L45.64,408.69 L45.96,408.76 L46.27,408.83 L46.58,408.90 L46.90,408.96 L47.21,409.03 L47.53,409.10 L47.84,409.17 L48.16,409.23 L48.47,409.30 L48.78,409.37 L49.10,409.45 L49.41,409.52 L49.73,409.60 L50.04,409.67 L50.35,409.75 L50.67,409.82 L50.98,409.90 L51.30,409.97 L51.61,410.05 L51.93,410.12 L52.24,410.18 L52.55,410.25 L52.87,410.31 L53.18,410.37 L53.50,410.43 L53.81,410.48 L54.13,410.52 L54.44,410.56 L54.75,410.60 L55.07,410.63 L55.38,410.66 L55.70,410.69 L56.01,410.72 L56.32,410.75 L56.64,410.77 L56.95,410.80 L57.27,410.83 L57.58,410.85 L57.90,410.88 L58.21,410.90 L58.52,410.92 L58.84,410.94 L59.15,410.95 L59.47,410.97 L59.78,410.98 L60.09,410.99 L60.41,410.99 L60.72,411.00 L61.04,411.00 L61.35,411.00 L61.67,410.98 L61.98,410.96 L62.29,410.94 L62.61,410.91 L62.92,410.87 L63.24,410.82 L63.55,410.78 L63.86,410.72 L64.18,410.67 L64.49,410.61 L64.81,410.55 L65.12,410.48 L65.44,410.41 L65.75,410.34 L66.06,410.23 L66.38,410.11 L66.69,409.96 L67.01,409.80 L67.32,409.63 L67.64,409.44 L67.95,409.25 L68.26,409.05 L68.58,408.86 L68.89,408.66 L69.21,408.48 L69.52,408.28 L69.83,408.08 L70.15,407.88 L70.46,407.67 L70.78,407.45 L71.09,407.22 L71.41,406.99 L71.72,406.76 L72.03,406.51 L72.35,406.26 L72.66,406.00 L72.98,405.73 L73.29,405.46 L73.60,405.17 L73.92,404.87 L74.23,404.55 L74.55,404.23 L74.86,403.90 L75.18,403.55 L75.49,403.20 L75.80,402.84 L76.12,402.46 L76.43,402.08 L76.75,401.69 L77.06,401.28 L77.38,400.86 L77.69,400.43 L78.00,399.98 L78.32,399.51 L78.63,399.02 L78.95,398.52 L79.26,398.01 L79.57,397.47 L79.89,396.91 L80.20,396.32 L80.52,395.71 L80.83,395.07 L81.15,394.41 L81.46,393.72 L81.77,393.02 L82.09,392.29 L82.40,391.54 L82.72,390.75 L83.03,389.92 L83.34,389.08 L83.66,388.21 L83.97,387.32 L84.29,386.42 L84.60,385.50 L84.92,384.51 L85.23,383.48 L85.54,382.45 L85.86,381.47 L86.17,380.57 L86.49,379.71 L86.80,378.84 L87.12,378.04 L87.43,377.38 L87.74,376.96 L88.06,376.65 L88.37,376.37 L88.69,376.14 L89.00,375.98 L89.31,375.90 L89.63,375.92 L89.94,376.03 L90.26,376.20 L90.57,376.42 L90.89,376.68 L91.20,377.15 L91.51,377.80 L91.83,378.53 L92.14,379.31 L92.46,380.21 L92.77,381.21 L93.08,382.28 L93.40,383.39 L93.71,384.50 L94.03,385.59 L94.34,386.71 L94.66,387.89 L94.97,389.09 L95.28,390.27 L95.60,391.40 L95.91,392.43 L96.23,393.37 L96.54,394.25 L96.85,395.10 L97.17,395.92 L97.48,396.69 L97.80,397.44 L98.11,398.16 L98.43,398.84 L98.74,399.51 L99.05,400.15 L99.37,400.78 L99.68,401.39 L100.00,401.96 L100.31,402.50 L100.63,403.00 L100.94,403.45 L101.25,403.88 L101.57,404.28 L101.88,404.67 L102.20,405.03 L102.51,405.38 L102.82,405.71 L103.14,406.03 L103.45,406.32 L103.77,406.60 L104.08,406.87 L104.40,407.12 L104.71,407.36 L105.02,407.60 L105.34,407.82 L105.65,408.03 L105.97,408.24 L106.28,408.43 L106.59,408.62 L106.91,408.80 L107.22,408.96 L107.54,409.12 L107.85,409.27 L108.17,409.42 L108.48,409.56 L108.79,409.70 L109.11,409.84 L109.42,409.97 L109.74,410.10 L110.05,410.22 L110.37,410.33 L110.68,410.44 L110.99,410.54 L111.31,410.63 L111.62,410.71 L111.94,410.79 L112.25,410.85 L112.56,410.92 L112.88,410.98 L113.19,411.04 L113.51,411.10 L113.82,411.16 L114.14,411.21 L114.45,411.26 L114.76,411.31 L115.08,411.36 L115.39,411.40 L115.71,411.44 L116.02,411.48 L116.33,411.51 L116.65,411.54 L116.96,411.57 L117.28,411.59 L117.59,411.61 L117.91,411.63 L118.22,411.65 L118.53,411.67 L118.85,411.69 L119.16,411.71 L119.48,411.73 L119.79,411.74 L120.11,411.76 L120.42,411.78 L120.73,411.79 L121.05,411.80 L121.36,411.82 L121.68,411.83 L121.99,411.84 L122.30,411.85 L122.62,411.86 L122.93,411.87 L123.25,411.88 L123.56,411.89 L123.88,411.89 L124.19,411.90 L124.50,411.90 L124.82,411.90 L125.13,411.90 L125.45,411.90 L125.76,411.90 L126.07,411.89 L126.39,411.89 L126.70,411.88 L127.02,411.87 L127.33,411.87 L127.65,411.86 L127.96,411.85 L128.27,411.84 L128.59,411.82 L128.90,411.81 L129.22,411.80 L129.53,411.79 L129.84,411.77 L130.16,411.76 L130.47,411.74 L130.79,411.72 L131.10,411.71 L131.42,411.69 L131.73,411.68 L132.04,411.66 L132.36,411.64 L132.67,411.62 L132.99,411.61 L133.30,411.59 L133.62,411.57 L133.93,411.56 L134.24,411.54 L134.56,411.52 L134.87,411.51 L135.19,411.49 L135.50,411.47 L135.81,411.46 L136.13,411.44 L136.44,411.42 L136.76,411.41 L137.07,411.39 L137.39,411.37 L137.70,411.36 L138.01,411.34 L138.33,411.32 L138.64,411.30 L138.96,411.28 L139.27,411.26 L139.58,411.24 L139.90,411.22 L140.21,411.20 L140.53,411.18 L140.84,411.16 L141.16,411.13 L141.47,411.11 L141.78,411.09 L142.10,411.06 L142.41,411.04 L142.73,411.01 L143.04,410.98 L143.36,410.96 L143.67,410.93 L143.98,410.90 L144.30,410.87 L144.61,410.84 L144.93,410.81 L145.24,410.77 L145.55,410.74 L145.87,410.70 L146.18,410.66 L146.50,410.62 L146.81,410.57 L147.13,410.52 L147.44,410.47 L147.75,410.42 L148.07,410.36 L148.38,410.31 L148.70,410.25 L149.01,410.19 L149.32,410.13 L149.64,410.07 L149.95,410.01 L150.27,409.95 L150.58,409.88 L150.90,409.81 L151.21,409.74 L151.52,409.67 L151.84,409.59 L152.15,409.51 L152.47,409.43 L152.78,409.35 L153.09,409.27 L153.41,409.18 L153.72,409.09 L154.04,409.00 L154.35,408.90 L154.67,408.80 L154.98,408.71 L155.29,408.60 L155.61,408.50 L155.92,408.39 L156.24,408.28 L156.55,408.16 L156.87,408.04 L157.18,407.92 L157.49,407.79 L157.81,407.66 L158.12,407.53 L158.44,407.39 L158.75,407.25 L159.06,407.10 L159.38,406.95 L159.69,406.80 L160.01,406.65 L160.32,406.49 L160.64,406.32 L160.95,406.15 L161.26,405.97 L161.58,405.79 L161.89,405.59 L162.21,405.40 L162.52,405.19 L162.83,404.98 L163.15,404.76 L163.46,404.53 L163.78,404.29 L164.09,404.04 L164.41,403.78 L164.72,403.51 L165.03,403.22 L165.35,402.92 L165.66,402.61 L165.98,402.28 L166.29,401.94 L166.61,401.58 L166.92,401.19 L167.23,400.78 L167.55,400.34 L167.86,399.88 L168.18,399.39 L168.49,398.88 L168.80,398.34 L169.12,397.79 L169.43,397.19 L169.75,396.56 L170.06,395.89 L170.38,395.18 L170.69,394.45 L171.00,393.69 L171.32,392.91 L171.63,392.10 L171.95,391.24 L172.26,390.34 L172.57,389.40 L172.89,388.43 L173.20,387.45 L173.52,386.44 L173.83,385.42 L174.15,384.36 L174.46,383.28 L174.77,382.16 L175.09,381.03 L175.40,379.86 L175.72,378.68 L176.03,377.47 L176.35,376.24 L176.66,374.98 L176.97,373.68 L177.29,372.35 L177.60,370.99 L177.92,369.58 L178.23,368.10 L178.54,366.59 L178.86,365.05 L179.17,363.50 L179.49,361.95 L179.80,360.42 L180.12,358.87 L180.43,357.32 L180.74,355.77 L181.06,354.21 L181.37,352.71 L181.69,351.52 L182.00,350.40 L182.31,349.06 L182.63,347.21 L182.94,344.49 L183.26,335.89 L183.57,323.76 L183.89,313.43 L184.20,304.06 L184.51,298.36 L184.83,294.86 L185.14,295.28 L185.46,297.09 L185.77,299.13 L186.08,301.67 L186.40,304.67 L186.71,307.99 L187.03,311.52 L187.34,315.64 L187.66,320.42 L187.97,325.45 L188.28,330.32 L188.60,334.61 L188.91,338.12 L189.23,341.32 L189.54,344.27 L189.86,346.99 L190.17,349.51 L190.48,351.84 L190.80,353.97 L191.11,355.95 L191.43,357.83 L191.74,359.67 L192.05,361.52 L192.37,363.43 L192.68,365.43 L193.00,367.46 L193.31,369.46 L193.63,371.33 L193.94,373.01 L194.25,374.48 L194.57,375.84 L194.88,377.12 L195.20,378.32 L195.51,379.47 L195.82,380.58 L196.14,381.65 L196.45,382.72 L196.77,383.76 L197.08,384.78 L197.40,385.77 L197.71,386.73 L198.02,387.65 L198.34,388.53 L198.65,389.37 L198.97,390.17 L199.28,390.93 L199.60,391.67 L199.91,392.39 L200.22,393.08 L200.54,393.75 L200.85,394.39 L201.17,395.01 L201.48,395.60 L201.79,396.15 L202.11,396.68 L202.42,397.19 L202.74,397.70 L203.05,398.19 L203.37,398.67 L203.68,399.13 L203.99,399.57 L204.31,399.99 L204.62,400.38 L204.94,400.74 L205.25,401.07 L205.56,401.37 L205.88,401.64 L206.19,401.90 L206.51,402.14 L206.82,402.37 L207.14,402.59 L207.45,402.80 L207.76,403.01 L208.08,403.20 L208.39,403.38 L208.71,403.56 L209.02,403.74 L209.34,403.90 L209.65,404.07 L209.96,404.23 L210.28,404.39 L210.59,404.55 L210.91,404.70 L211.22,404.86 L211.53,405.01 L211.85,405.17 L212.16,405.32 L212.48,405.46 L212.79,405.61 L213.11,405.75 L213.42,405.88 L213.73,406.01 L214.05,406.14 L214.36,406.25 L214.68,406.36 L214.99,406.47 L215.30,406.56 L215.62,406.65 L215.93,406.73 L216.25,406.81 L216.56,406.88 L216.88,406.96 L217.19,407.03 L217.50,407.09 L217.82,407.16 L218.13,407.22 L218.45,407.28 L218.76,407.34 L219.07,407.40 L219.39,407.45 L219.70,407.50 L220.02,407.55 L220.33,407.60 L220.65,407.64 L220.96,407.68 L221.27,407.72 L221.59,407.76 L221.90,407.79 L222.22,407.82 L222.53,407.85 L222.85,407.89 L223.16,407.92 L223.47,407.95 L223.79,407.98 L224.10,408.01 L224.42,408.04 L224.73,408.07 L225.04,408.10 L225.36,408.12 L225.67,408.15 L225.99,408.18 L226.30,408.20 L226.62,408.22 L226.93,408.25 L227.24,408.27 L227.56,408.29 L227.87,408.31 L228.19,408.32 L228.50,408.34 L228.81,408.35 L229.13,408.37 L229.44,408.38 L229.76,408.39 L230.07,408.39 L230.39,408.40 L230.70,408.40" fill="none" stroke="#111" stroke-width="1.65" stroke-dasharray="1.75 2.65" clip-path="url(#cc)"/>
<path d="M42.45,412.20 L42.66,412.20 L42.87,412.20 L43.08,412.20 L43.29,412.20 L43.50,412.20 L43.71,412.20 L43.92,412.20 L44.13,412.20 L44.33,412.20 L44.54,412.20 L44.75,412.20 L44.96,412.20 L45.17,412.20 L45.38,412.20 L45.59,412.20 L45.80,412.20 L46.01,412.20 L46.22,412.20 L46.43,412.20 L46.64,412.20 L46.85,412.20 L47.06,412.20 L47.27,412.20 L47.48,412.20 L47.68,412.20 L47.89,412.20 L48.10,412.20 L48.31,412.20 L48.52,412.20 L48.73,412.20 L48.94,412.20 L49.15,412.20 L49.36,412.20 L49.57,412.20 L49.78,412.20 L49.99,412.20 L50.20,412.20 L50.41,412.20 L50.62,412.20 L50.83,412.20 L51.04,412.20 L51.24,412.20 L51.45,412.20 L51.66,412.20 L51.87,412.20 L52.08,412.20 L52.29,412.20 L52.50,412.20 L52.71,412.20 L52.92,412.20 L53.13,412.20 L53.34,412.20 L53.55,412.20 L53.76,412.20 L53.97,412.20 L54.18,412.20 L54.39,412.20 L54.60,412.20 L54.80,412.20 L55.01,412.20 L55.22,412.20 L55.43,412.20 L55.64,412.20 L55.85,412.20 L56.06,412.20 L56.27,412.20 L56.48,412.20 L56.69,412.20 L56.90,412.20 L57.11,412.20 L57.32,412.20 L57.53,412.20 L57.74,412.20 L57.95,412.20 L58.15,412.20 L58.36,412.20 L58.57,412.20 L58.78,412.20 L58.99,412.20 L59.20,412.20 L59.41,412.20 L59.62,412.20 L59.83,412.20 L60.04,412.20 L60.25,412.20 L60.46,412.20 L60.67,412.20 L60.88,412.20 L61.09,412.20 L61.30,412.20 L61.51,412.20 L61.71,412.20 L61.92,412.20 L62.13,412.20 L62.34,412.20 L62.55,412.20 L62.76,412.20 L62.97,412.20 L63.18,412.20 L63.39,412.20 L63.60,412.20 L63.81,412.20 L64.02,412.20 L64.23,412.20 L64.44,412.20 L64.65,412.20 L64.86,412.20 L65.07,412.20 L65.27,412.20 L65.48,412.20 L65.69,412.20 L65.90,412.20 L66.11,412.20 L66.32,412.20 L66.53,412.20 L66.74,412.20 L66.95,412.20 L67.16,412.20 L67.37,412.20 L67.58,412.20 L67.79,412.20 L68.00,412.20 L68.21,412.20 L68.42,412.20 L68.62,412.20 L68.83,412.20 L69.04,412.20 L69.25,412.20 L69.46,412.20 L69.67,412.20 L69.88,412.20 L70.09,412.20 L70.30,412.20 L70.51,412.20 L70.72,412.20 L70.93,412.20 L71.14,412.20 L71.35,412.20 L71.56,412.20 L71.77,412.20 L71.98,412.20 L72.18,412.20 L72.39,412.20 L72.60,412.20 L72.81,412.20 L73.02,412.20 L73.23,412.20 L73.44,412.20 L73.65,412.20 L73.86,412.20 L74.07,412.20 L74.28,412.20 L74.49,412.20 L74.70,412.20 L74.91,412.20 L75.12,412.20 L75.33,412.20 L75.54,412.20 L75.74,412.20 L75.95,412.20 L76.16,412.20 L76.37,412.20 L76.58,412.20 L76.79,412.20 L77.00,412.20 L77.21,412.20 L77.42,412.20 L77.63,412.20 L77.84,412.20 L78.05,412.20 L78.26,412.20 L78.47,412.20 L78.68,412.20 L78.89,412.20 L79.09,412.20 L79.30,412.20 L79.51,412.20 L79.72,412.20 L79.93,412.20 L80.14,412.20 L80.35,412.20 L80.56,412.20 L80.77,412.20 L80.98,412.20 L81.19,412.20 L81.40,412.20 L81.61,412.20 L81.82,412.20 L82.03,412.20 L82.24,412.20 L82.45,412.20 L82.65,412.20 L82.86,412.20 L83.07,412.20 L83.28,412.20 L83.49,412.20 L83.70,412.20 L83.91,412.20 L84.12,412.20 L84.33,412.20 L84.54,412.20 L84.75,412.20 L84.96,412.20 L85.17,412.20 L85.38,412.20 L85.59,412.20 L85.80,412.20 L86.01,412.20 L86.21,412.11 L86.42,411.59 L86.63,410.76 L86.84,409.79 L87.05,408.26 L87.26,406.25 L87.47,404.16 L87.68,402.33 L87.89,400.58 L88.10,398.86 L88.31,397.27 L88.52,395.89 L88.73,394.61 L88.94,393.43 L89.15,392.47 L89.36,391.88 L89.56,391.43 L89.77,391.06 L89.98,390.80 L90.19,390.70 L90.40,390.75 L90.61,390.88 L90.82,391.08 L91.03,391.31 L91.24,391.55 L91.45,391.85 L91.66,392.22 L91.87,392.65 L92.08,393.11 L92.29,393.56 L92.50,393.99 L92.71,394.41 L92.92,394.82 L93.12,395.24 L93.33,395.67 L93.54,396.09 L93.75,396.51 L93.96,396.93 L94.17,397.35 L94.38,397.76 L94.59,398.17 L94.80,398.59 L95.01,399.01 L95.22,399.43 L95.43,399.84 L95.64,400.25 L95.85,400.64 L96.06,401.03 L96.27,401.40 L96.48,401.76 L96.68,402.10 L96.89,402.44 L97.10,402.77 L97.31,403.09 L97.52,403.41 L97.73,403.72 L97.94,404.03 L98.15,404.32 L98.36,404.61 L98.57,404.89 L98.78,405.16 L98.99,405.43 L99.20,405.68 L99.41,405.92 L99.62,406.16 L99.83,406.40 L100.03,406.63 L100.24,406.85 L100.45,407.07 L100.66,407.29 L100.87,407.50 L101.08,407.70 L101.29,407.90 L101.50,408.09 L101.71,408.27 L101.92,408.45 L102.13,408.62 L102.34,408.78 L102.55,408.93 L102.76,409.08 L102.97,409.23 L103.18,409.37 L103.39,409.51 L103.59,409.65 L103.80,409.78 L104.01,409.91 L104.22,410.04 L104.43,410.15 L104.64,410.27 L104.85,410.38 L105.06,410.48 L105.27,410.58 L105.48,410.67 L105.69,410.76 L105.90,410.84 L106.11,410.91 L106.32,410.99 L106.53,411.06 L106.74,411.13 L106.94,411.20 L107.15,411.26 L107.36,411.32 L107.57,411.38 L107.78,411.44 L107.99,411.49 L108.20,411.54 L108.41,411.59 L108.62,411.63 L108.83,411.67 L109.04,411.71 L109.25,411.74 L109.46,411.78 L109.67,411.81 L109.88,411.84 L110.09,411.87 L110.30,411.90 L110.50,411.93 L110.71,411.96 L110.92,411.99 L111.13,412.01 L111.34,412.03 L111.55,412.05 L111.76,412.07 L111.97,412.08 L112.18,412.09 L112.39,412.10 L112.60,412.11 L112.81,412.11 L113.02,412.12 L113.23,412.12 L113.44,412.13 L113.65,412.13 L113.86,412.13 L114.06,412.14 L114.27,412.14 L114.48,412.15 L114.69,412.15 L114.90,412.16 L115.11,412.16 L115.32,412.16 L115.53,412.17 L115.74,412.17 L115.95,412.17 L116.16,412.17 L116.37,412.18 L116.58,412.18 L116.79,412.18 L117.00,412.18 L117.21,412.19 L117.41,412.19 L117.62,412.19 L117.83,412.19 L118.04,412.19 L118.25,412.19 L118.46,412.20 L118.67,412.20 L118.88,412.20 L119.09,412.20 L119.30,412.20 L119.51,412.20 L119.72,412.20 L119.93,412.20 L120.14,412.20 L120.35,412.20 L120.56,412.20 L120.77,412.20 L120.97,412.20 L121.18,412.20 L121.39,412.20 L121.60,412.20 L121.81,412.20 L122.02,412.20 L122.23,412.20 L122.44,412.20 L122.65,412.20 L122.86,412.20 L123.07,412.20 L123.28,412.20 L123.49,412.20 L123.70,412.20 L123.91,412.20 L124.12,412.20 L124.33,412.20 L124.53,412.20 L124.74,412.20 L124.95,412.20 L125.16,412.20 L125.37,412.20 L125.58,412.20 L125.79,412.20 L126.00,412.20 L126.21,412.20 L126.42,412.20 L126.63,412.20 L126.84,412.20 L127.05,412.20 L127.26,412.20 L127.47,412.20 L127.68,412.20 L127.88,412.20 L128.09,412.20 L128.30,412.20 L128.51,412.20 L128.72,412.20 L128.93,412.20 L129.14,412.20 L129.35,412.20 L129.56,412.20 L129.77,412.20 L129.98,412.20 L130.19,412.20 L130.40,412.20 L130.61,412.20 L130.82,412.20 L131.03,412.20 L131.24,412.20 L131.44,412.20 L131.65,412.20 L131.86,412.20 L132.07,412.20 L132.28,412.20 L132.49,412.20 L132.70,412.20 L132.91,412.20 L133.12,412.20 L133.33,412.20 L133.54,412.20 L133.75,412.20 L133.96,412.20 L134.17,412.20 L134.38,412.20 L134.59,412.20 L134.80,412.20 L135.00,412.20 L135.21,412.20 L135.42,412.20 L135.63,412.20 L135.84,412.20 L136.05,412.20 L136.26,412.20 L136.47,412.20 L136.68,412.20 L136.89,412.20 L137.10,412.20 L137.31,412.20 L137.52,412.20 L137.73,412.20 L137.94,412.20 L138.15,412.20 L138.35,412.20 L138.56,412.20 L138.77,412.20 L138.98,412.20 L139.19,412.20 L139.40,412.20 L139.61,412.20 L139.82,412.20 L140.03,412.20 L140.24,412.20 L140.45,412.20 L140.66,412.20 L140.87,412.20 L141.08,412.20 L141.29,412.20 L141.50,412.20 L141.71,412.20 L141.91,412.20 L142.12,412.20 L142.33,412.20 L142.54,412.20 L142.75,412.20 L142.96,412.20 L143.17,412.20 L143.38,412.20 L143.59,412.20 L143.80,412.20 L144.01,412.20 L144.22,412.20 L144.43,412.20 L144.64,412.20 L144.85,412.20 L145.06,412.20 L145.27,412.20 L145.47,412.20 L145.68,412.20 L145.89,412.20 L146.10,412.20 L146.31,412.20 L146.52,412.20 L146.73,412.20 L146.94,412.20 L147.15,412.20 L147.36,412.20 L147.57,412.20 L147.78,412.20 L147.99,412.20 L148.20,412.20 L148.41,412.20 L148.62,412.20 L148.82,412.20 L149.03,412.20 L149.24,412.20 L149.45,412.20 L149.66,412.20 L149.87,412.20 L150.08,412.20 L150.29,412.20 L150.50,412.20 L150.71,412.20 L150.92,412.20 L151.13,412.20 L151.34,412.20 L151.55,412.20 L151.76,412.20 L151.97,412.20 L152.18,412.20 L152.38,412.20 L152.59,412.20 L152.80,412.20 L153.01,412.20 L153.22,412.20 L153.43,412.20 L153.64,412.20 L153.85,412.20 L154.06,412.20 L154.27,412.20 L154.48,412.20 L154.69,412.20 L154.90,412.20 L155.11,412.20 L155.32,412.20 L155.53,412.20 L155.74,412.20 L155.94,412.20 L156.15,412.20 L156.36,412.20 L156.57,412.20 L156.78,412.20 L156.99,412.20 L157.20,412.20 L157.41,412.20 L157.62,412.20 L157.83,412.20 L158.04,412.20 L158.25,412.20 L158.46,412.20 L158.67,412.20 L158.88,412.20 L159.09,412.20 L159.29,412.20 L159.50,412.20 L159.71,412.20 L159.92,412.20 L160.13,412.20 L160.34,412.20 L160.55,412.20 L160.76,412.20 L160.97,412.20 L161.18,412.20 L161.39,412.20 L161.60,412.20 L161.81,412.20 L162.02,412.20 L162.23,412.20 L162.44,412.20 L162.65,412.20 L162.85,412.20 L163.06,412.20 L163.27,412.20 L163.48,412.20 L163.69,412.20 L163.90,412.20 L164.11,412.20 L164.32,412.20 L164.53,412.20 L164.74,412.20 L164.95,412.20 L165.16,412.20 L165.37,412.20 L165.58,412.20 L165.79,412.20 L166.00,412.20 L166.21,412.20 L166.41,412.20 L166.62,412.20 L166.83,412.20 L167.04,412.20 L167.25,412.20 L167.46,412.20 L167.67,412.20 L167.88,412.20 L168.09,412.20 L168.30,412.20 L168.51,412.20 L168.72,412.20 L168.93,412.20 L169.14,412.20 L169.35,412.20 L169.56,412.20 L169.76,412.20 L169.97,412.20 L170.18,412.20 L170.39,412.20 L170.60,412.20 L170.81,412.20 L171.02,412.20 L171.23,412.20 L171.44,412.20 L171.65,412.20 L171.86,412.20 L172.07,412.20 L172.28,412.20 L172.49,412.20 L172.70,412.20 L172.91,412.20 L173.12,412.20 L173.32,412.20 L173.53,412.20 L173.74,412.20 L173.95,412.20 L174.16,412.20 L174.37,412.20 L174.58,412.20 L174.79,412.20 L175.00,412.20 L175.21,412.20 L175.42,412.20 L175.63,412.20 L175.84,412.20 L176.05,412.20 L176.26,412.20 L176.47,412.20 L176.67,412.20 L176.88,412.20 L177.09,412.20 L177.30,412.20 L177.51,412.20 L177.72,412.20 L177.93,412.20 L178.14,412.20 L178.35,412.20 L178.56,412.20 L178.77,412.20 L178.98,412.20 L179.19,412.20 L179.40,412.20 L179.61,412.20 L179.82,412.20 L180.03,412.20 L180.23,412.20 L180.44,412.20 L180.65,412.20 L180.86,412.20 L181.07,412.20 L181.28,412.20 L181.49,412.20 L181.70,412.20 L181.91,412.20 L182.12,412.20 L182.33,412.20 L182.54,409.99 L182.75,402.04 L182.96,393.12 L183.17,381.77 L183.38,370.12 L183.59,360.54 L183.79,353.09 L184.00,346.00 L184.21,339.86 L184.42,335.25 L184.63,332.75 L184.84,331.29 L185.05,330.14 L185.26,329.44 L185.47,329.39 L185.68,330.60 L185.89,332.69 L186.10,334.98 L186.31,337.49 L186.52,340.53 L186.73,343.85 L186.94,347.20 L187.14,350.48 L187.35,353.92 L187.56,357.36 L187.77,360.61 L187.98,363.61 L188.19,366.48 L188.40,369.23 L188.61,371.84 L188.82,374.30 L189.03,376.67 L189.24,378.95 L189.45,381.13 L189.66,383.21 L189.87,385.20 L190.08,387.12 L190.29,389.01 L190.50,390.85 L190.70,392.58 L190.91,394.16 L191.12,395.55 L191.33,396.74 L191.54,397.83 L191.75,398.84 L191.96,399.77 L192.17,400.63 L192.38,401.42 L192.59,402.14 L192.80,402.81 L193.01,403.44 L193.22,404.04 L193.43,404.61 L193.64,405.13 L193.85,405.62 L194.06,406.07 L194.26,406.47 L194.47,406.82 L194.68,407.15 L194.89,407.47 L195.10,407.77 L195.31,408.05 L195.52,408.31 L195.73,408.56 L195.94,408.80 L196.15,409.02 L196.36,409.22 L196.57,409.41 L196.78,409.58 L196.99,409.74 L197.20,409.90 L197.41,410.05 L197.61,410.19 L197.82,410.32 L198.03,410.45 L198.24,410.57 L198.45,410.68 L198.66,410.79 L198.87,410.89 L199.08,410.98 L199.29,411.06 L199.50,411.14 L199.71,411.21 L199.92,411.28 L200.13,411.35 L200.34,411.41 L200.55,411.48 L200.76,411.54 L200.97,411.59 L201.17,411.65 L201.38,411.70 L201.59,411.74 L201.80,411.79 L202.01,411.83 L202.22,411.86 L202.43,411.89 L202.64,411.92 L202.85,411.95 L203.06,411.97 L203.27,412.00 L203.48,412.02 L203.69,412.05 L203.90,412.07 L204.11,412.09 L204.32,412.11 L204.53,412.13 L204.73,412.15 L204.94,412.16 L205.15,412.18 L205.36,412.19 L205.57,412.19 L205.78,412.20 L205.99,412.20 L206.20,412.20 L206.41,412.20 L206.62,412.20 L206.83,412.20 L207.04,412.20 L207.25,412.20 L207.46,412.20 L207.67,412.20 L207.88,412.20 L208.08,412.20 L208.29,412.20 L208.50,412.20 L208.71,412.20 L208.92,412.20 L209.13,412.20 L209.34,412.20 L209.55,412.20 L209.76,412.20 L209.97,412.20 L210.18,412.20 L210.39,412.20 L210.60,412.20 L210.81,412.20 L211.02,412.20 L211.23,412.20 L211.44,412.20 L211.64,412.20 L211.85,412.20 L212.06,412.20 L212.27,412.20 L212.48,412.20 L212.69,412.20 L212.90,412.20 L213.11,412.20 L213.32,412.20 L213.53,412.20 L213.74,412.20 L213.95,412.20 L214.16,412.20 L214.37,412.20 L214.58,412.20 L214.79,412.20 L215.00,412.20 L215.20,412.20 L215.41,412.20 L215.62,412.20 L215.83,412.20 L216.04,412.20 L216.25,412.20 L216.46,412.20 L216.67,412.20 L216.88,412.20 L217.09,412.20 L217.30,412.20 L217.51,412.20 L217.72,412.20 L217.93,412.20 L218.14,412.20 L218.35,412.20 L218.55,412.20 L218.76,412.20 L218.97,412.20 L219.18,412.20 L219.39,412.20 L219.60,412.20 L219.81,412.20 L220.02,412.20 L220.23,412.20 L220.44,412.20 L220.65,412.20 L220.86,412.20 L221.07,412.20 L221.28,412.20 L221.49,412.20 L221.70,412.20 L221.91,412.20 L222.11,412.20 L222.32,412.20 L222.53,412.20 L222.74,412.20 L222.95,412.20 L223.16,412.20 L223.37,412.20 L223.58,412.20 L223.79,412.20 L224.00,412.20 L224.21,412.20 L224.42,412.20 L224.63,412.20 L224.84,412.20 L225.05,412.20 L225.26,412.20 L225.47,412.20 L225.67,412.20 L225.88,412.20 L226.09,412.20 L226.30,412.20 L226.51,412.20 L226.72,412.20 L226.93,412.20 L227.14,412.20 L227.35,412.20 L227.56,412.20 L227.77,412.20 L227.98,412.20 L228.19,412.20 L228.40,412.20 L228.61,412.20 L228.82,412.20 L229.02,412.20 L229.23,412.20 L229.44,412.20 L229.65,412.20 L229.86,412.20 L230.07,412.20 L230.28,412.20 L230.49,412.20 L230.70,412.20" fill="none" stroke="#0b55a8" stroke-width="1.6" stroke-linejoin="round" clip-path="url(#cc)"/>
<rect x="42.45" y="260.5" width="188.25" height="151.80" fill="none" stroke="#363636" stroke-width="1.1"/>
<path d="M42.45,412.3v-2.6M89.51,412.3v-2.6M136.57,412.3v-2.6M183.64,412.3v-2.6M230.70,412.3v-2.6M65.98,412.3v-1.4M113.04,412.3v-1.4M160.11,412.3v-1.4M207.17,412.3v-1.4M42.45,412.30h2.6M42.45,361.70h2.6M42.45,311.10h2.6M42.45,260.50h2.6M42.45,387.00h1.4M42.45,336.40h1.4M42.45,285.80h1.4M230.7,412.30h-2.6M230.7,381.94h-2.6M230.7,351.58h-2.6M230.7,321.22h-2.6M230.7,290.86h-2.6M230.7,260.50h-2.6M230.7,397.12h-1.4M230.7,366.76h-1.4M230.7,336.40h-1.4M230.7,306.04h-1.4M230.7,275.68h-1.4" stroke="#363636" stroke-width="0.9" fill="none"/>
<text x="38.60" y="416.60" font-size="12.6" text-anchor="end" font-weight="normal" fill="#1a1a1a" stroke="#1a1a1a" stroke-width="0.24">0</text>
<text x="38.60" y="366.00" font-size="12.6" text-anchor="end" font-weight="normal" fill="#1a1a1a" stroke="#1a1a1a" stroke-width="0.24">1</text>
<text x="38.60" y="315.40" font-size="12.6" text-anchor="end" font-weight="normal" fill="#1a1a1a" stroke="#1a1a1a" stroke-width="0.24">2</text>
<text x="38.60" y="264.80" font-size="12.6" text-anchor="end" font-weight="normal" fill="#1a1a1a" stroke="#1a1a1a" stroke-width="0.24">3</text>
<text x="233.80" y="415.90" font-size="12.6" text-anchor="start" font-weight="normal" fill="#1a1a1a" stroke="#1a1a1a" stroke-width="0.24">0</text>
<text x="233.80" y="385.54" font-size="12.6" text-anchor="start" font-weight="normal" fill="#1a1a1a" stroke="#1a1a1a" stroke-width="0.24">1</text>
<text x="233.80" y="355.18" font-size="12.6" text-anchor="start" font-weight="normal" fill="#1a1a1a" stroke="#1a1a1a" stroke-width="0.24">2</text>
<text x="233.80" y="324.82" font-size="12.6" text-anchor="start" font-weight="normal" fill="#1a1a1a" stroke="#1a1a1a" stroke-width="0.24">3</text>
<text x="233.80" y="294.46" font-size="12.6" text-anchor="start" font-weight="normal" fill="#1a1a1a" stroke="#1a1a1a" stroke-width="0.24">4</text>
<text x="233.80" y="264.10" font-size="12.6" text-anchor="start" font-weight="normal" fill="#1a1a1a" stroke="#1a1a1a" stroke-width="0.24">5</text>
<text x="42.45" y="426.20" font-size="12.6" text-anchor="middle" font-weight="normal" fill="#1a1a1a" stroke="#1a1a1a" stroke-width="0.24">-540</text>
<text x="89.51" y="426.20" font-size="12.6" text-anchor="middle" font-weight="normal" fill="#1a1a1a" stroke="#1a1a1a" stroke-width="0.24">-360</text>
<text x="136.57" y="426.20" font-size="12.6" text-anchor="middle" font-weight="normal" fill="#1a1a1a" stroke="#1a1a1a" stroke-width="0.24">-180</text>
<text x="183.64" y="426.20" font-size="12.6" text-anchor="middle" font-weight="normal" fill="#1a1a1a" stroke="#1a1a1a" stroke-width="0.24">0</text>
<text x="230.70" y="426.20" font-size="12.6" text-anchor="middle" font-weight="normal" fill="#1a1a1a" stroke="#1a1a1a" stroke-width="0.24">180</text>
<text x="74.30" y="446.50" font-size="12.9" text-anchor="start" font-weight="normal" fill="#1a1a1a" stroke="#1a1a1a" stroke-width="0.24">Crank angle/°CA aTDC</text>
<text x="22.00" y="383.20" font-size="12.9" text-anchor="start" font-weight="normal" fill="#1a1a1a" stroke="#1a1a1a" stroke-width="0.24" transform="rotate(-90 22.00 383.20)">Ion current signal/V</text>
<text x="253.40" y="396.60" font-size="12.9" text-anchor="start" font-weight="normal" fill="#1a1a1a" stroke="#1a1a1a" stroke-width="0.24" transform="rotate(-90 253.40 396.60)">Cylinder pressure/MPa</text>
<line x1="52.6" y1="277.5" x2="74" y2="277.5" stroke="#0b55a8" stroke-width="1.5"/>
<line x1="52.6" y1="290.0" x2="74" y2="290.0" stroke="#111" stroke-width="1.6" stroke-dasharray="1.8 2.5"/>
<text x="77.50" y="281.00" font-size="10.0" text-anchor="start" font-weight="normal" fill="#1a1a1a" stroke="#1a1a1a" stroke-width="0.24">Ion current signal</text>
<text x="77.50" y="293.80" font-size="10.0" text-anchor="start" font-weight="normal" fill="#1a1a1a" stroke="#1a1a1a" stroke-width="0.24">Cylinder pressure</text>
<text x="85.50" y="351.20" font-size="8.55" text-anchor="start" font-weight="bold" fill="#0b55a8" stroke="#0b55a8" stroke-width="0.16">Peak of main combustion</text>
<line x1="182.30" y1="368.50" x2="175.48" y2="360.50" stroke="#0b55a8" stroke-width="1.2"/>
<polygon points="172.50,357.00 177.43,360.16 175.74,360.81 174.84,362.36" fill="#0b55a8"/>
<text x="99.00" y="378.00" font-size="8.55" text-anchor="start" font-weight="bold" fill="#0b55a8" stroke="#0b55a8" stroke-width="0.16">Peak of NVO</text>
<line x1="94.30" y1="394.70" x2="102.31" y2="387.80" stroke="#0b55a8" stroke-width="1.2"/>
<polygon points="105.80,384.80 102.67,389.74 102.01,388.06 100.45,387.17" fill="#0b55a8"/>
<text x="126.70" y="478.50" font-size="12.3" fill="#111" stroke="#111" stroke-width="0.2"><tspan>(</tspan><tspan font-weight="bold">c</tspan><tspan>)</tspan></text>
<line x1="370.32" y1="260.5" x2="370.32" y2="415.2" stroke="#cbcbcb" stroke-width="0.85"/>
<line x1="418.35" y1="260.5" x2="418.35" y2="415.2" stroke="#cbcbcb" stroke-width="0.85"/>
<line x1="466.38" y1="260.5" x2="466.38" y2="415.2" stroke="#cbcbcb" stroke-width="0.85"/>
<line x1="322.3" y1="363.63" x2="514.4" y2="363.63" stroke="#cbcbcb" stroke-width="0.85"/>
<line x1="322.3" y1="312.07" x2="514.4" y2="312.07" stroke="#cbcbcb" stroke-width="0.85"/>
<path d="M322.30,409.60 L322.62,409.74 L322.94,409.89 L323.26,410.03 L323.58,410.17 L323.90,410.31 L324.21,410.45 L324.53,410.59 L324.85,410.72 L325.17,410.86 L325.49,410.99 L325.81,411.12 L326.13,411.25 L326.45,411.39 L326.77,411.53 L327.09,411.68 L327.40,411.83 L327.72,411.99 L328.04,412.14 L328.36,412.29 L328.68,412.44 L329.00,412.58 L329.32,412.71 L329.64,412.84 L329.96,412.95 L330.28,413.05 L330.59,413.14 L330.91,413.21 L331.23,413.27 L331.55,413.30 L331.87,413.33 L332.19,413.36 L332.51,413.39 L332.83,413.41 L333.15,413.44 L333.47,413.46 L333.79,413.48 L334.10,413.51 L334.42,413.53 L334.74,413.55 L335.06,413.56 L335.38,413.58 L335.70,413.60 L336.02,413.61 L336.34,413.63 L336.66,413.64 L336.98,413.65 L337.29,413.66 L337.61,413.67 L337.93,413.68 L338.25,413.69 L338.57,413.69 L338.89,413.70 L339.21,413.70 L339.53,413.70 L339.85,413.70 L340.17,413.68 L340.48,413.66 L340.80,413.62 L341.12,413.57 L341.44,413.51 L341.76,413.45 L342.08,413.38 L342.40,413.30 L342.72,413.22 L343.04,413.14 L343.36,413.06 L343.68,412.98 L343.99,412.90 L344.31,412.82 L344.63,412.74 L344.95,412.65 L345.27,412.55 L345.59,412.45 L345.91,412.34 L346.23,412.23 L346.55,412.12 L346.87,412.00 L347.18,411.88 L347.50,411.76 L347.82,411.63 L348.14,411.50 L348.46,411.37 L348.78,411.23 L349.10,411.08 L349.42,410.93 L349.74,410.78 L350.06,410.61 L350.37,410.44 L350.69,410.27 L351.01,410.09 L351.33,409.90 L351.65,409.71 L351.97,409.50 L352.29,409.28 L352.61,409.05 L352.93,408.82 L353.25,408.57 L353.57,408.31 L353.88,408.04 L354.20,407.76 L354.52,407.48 L354.84,407.19 L355.16,406.88 L355.48,406.56 L355.80,406.22 L356.12,405.87 L356.44,405.50 L356.76,405.11 L357.07,404.70 L357.39,404.26 L357.71,403.79 L358.03,403.28 L358.35,402.75 L358.67,402.21 L358.99,401.64 L359.31,401.07 L359.63,400.48 L359.95,399.87 L360.26,399.24 L360.58,398.59 L360.90,397.93 L361.22,397.24 L361.54,396.54 L361.86,395.82 L362.18,395.08 L362.50,394.31 L362.82,393.52 L363.14,392.70 L363.46,391.86 L363.77,391.03 L364.09,390.19 L364.41,389.37 L364.73,388.54 L365.05,387.70 L365.37,386.85 L365.69,386.01 L366.01,385.19 L366.33,384.41 L366.65,383.66 L366.96,382.89 L367.28,382.11 L367.60,381.37 L367.92,380.70 L368.24,380.15 L368.56,379.73 L368.88,379.38 L369.20,379.04 L369.52,378.73 L369.84,378.48 L370.15,378.30 L370.47,378.21 L370.79,378.23 L371.11,378.40 L371.43,378.68 L371.75,379.02 L372.07,379.38 L372.39,379.87 L372.71,380.48 L373.03,381.17 L373.35,381.88 L373.66,382.59 L373.98,383.36 L374.30,384.17 L374.62,385.00 L374.94,385.84 L375.26,386.68 L375.58,387.50 L375.90,388.33 L376.22,389.17 L376.54,390.01 L376.85,390.84 L377.17,391.65 L377.49,392.44 L377.81,393.20 L378.13,393.95 L378.45,394.68 L378.77,395.40 L379.09,396.10 L379.41,396.78 L379.73,397.45 L380.04,398.09 L380.36,398.72 L380.68,399.34 L381.00,399.94 L381.32,400.53 L381.64,401.10 L381.96,401.64 L382.28,402.16 L382.60,402.64 L382.92,403.11 L383.24,403.57 L383.55,404.01 L383.87,404.43 L384.19,404.84 L384.51,405.23 L384.83,405.60 L385.15,405.94 L385.47,406.27 L385.79,406.57 L386.11,406.87 L386.43,407.16 L386.74,407.43 L387.06,407.70 L387.38,407.95 L387.70,408.19 L388.02,408.42 L388.34,408.64 L388.66,408.84 L388.98,409.03 L389.30,409.21 L389.62,409.38 L389.93,409.56 L390.25,409.72 L390.57,409.88 L390.89,410.04 L391.21,410.19 L391.53,410.34 L391.85,410.48 L392.17,410.62 L392.49,410.75 L392.81,410.88 L393.13,411.00 L393.44,411.12 L393.76,411.23 L394.08,411.33 L394.40,411.43 L394.72,411.52 L395.04,411.61 L395.36,411.69 L395.68,411.77 L396.00,411.85 L396.32,411.93 L396.63,412.01 L396.95,412.08 L397.27,412.15 L397.59,412.22 L397.91,412.29 L398.23,412.35 L398.55,412.42 L398.87,412.48 L399.19,412.53 L399.51,412.59 L399.82,412.64 L400.14,412.69 L400.46,412.73 L400.78,412.77 L401.10,412.81 L401.42,412.85 L401.74,412.88 L402.06,412.90 L402.38,412.93 L402.70,412.96 L403.02,412.98 L403.33,413.01 L403.65,413.03 L403.97,413.05 L404.29,413.08 L404.61,413.10 L404.93,413.12 L405.25,413.14 L405.57,413.17 L405.89,413.19 L406.21,413.21 L406.52,413.23 L406.84,413.24 L407.16,413.26 L407.48,413.28 L407.80,413.29 L408.12,413.31 L408.44,413.32 L408.76,413.33 L409.08,413.35 L409.40,413.36 L409.71,413.37 L410.03,413.37 L410.35,413.38 L410.67,413.39 L410.99,413.39 L411.31,413.40 L411.63,413.40 L411.95,413.40 L412.27,413.40 L412.59,413.40 L412.91,413.40 L413.22,413.40 L413.54,413.40 L413.86,413.40 L414.18,413.40 L414.50,413.40 L414.82,413.40 L415.14,413.39 L415.46,413.39 L415.78,413.39 L416.10,413.39 L416.41,413.39 L416.73,413.39 L417.05,413.38 L417.37,413.38 L417.69,413.38 L418.01,413.38 L418.33,413.38 L418.65,413.37 L418.97,413.37 L419.29,413.37 L419.60,413.37 L419.92,413.36 L420.24,413.36 L420.56,413.36 L420.88,413.35 L421.20,413.35 L421.52,413.35 L421.84,413.34 L422.16,413.34 L422.48,413.33 L422.79,413.33 L423.11,413.33 L423.43,413.32 L423.75,413.32 L424.07,413.31 L424.39,413.31 L424.71,413.30 L425.03,413.30 L425.35,413.29 L425.67,413.28 L425.99,413.27 L426.30,413.25 L426.62,413.24 L426.94,413.21 L427.26,413.19 L427.58,413.16 L427.90,413.14 L428.22,413.10 L428.54,413.07 L428.86,413.04 L429.18,413.00 L429.49,412.96 L429.81,412.92 L430.13,412.88 L430.45,412.84 L430.77,412.79 L431.09,412.75 L431.41,412.70 L431.73,412.65 L432.05,412.60 L432.37,412.56 L432.68,412.51 L433.00,412.46 L433.32,412.41 L433.64,412.36 L433.96,412.31 L434.28,412.25 L434.60,412.20 L434.92,412.14 L435.24,412.08 L435.56,412.01 L435.88,411.95 L436.19,411.87 L436.51,411.80 L436.83,411.72 L437.15,411.64 L437.47,411.56 L437.79,411.47 L438.11,411.38 L438.43,411.29 L438.75,411.20 L439.07,411.10 L439.38,411.00 L439.70,410.90 L440.02,410.79 L440.34,410.68 L440.66,410.57 L440.98,410.45 L441.30,410.32 L441.62,410.18 L441.94,410.04 L442.26,409.89 L442.57,409.74 L442.89,409.58 L443.21,409.42 L443.53,409.25 L443.85,409.07 L444.17,408.89 L444.49,408.71 L444.81,408.51 L445.13,408.31 L445.45,408.10 L445.77,407.88 L446.08,407.65 L446.40,407.40 L446.72,407.15 L447.04,406.88 L447.36,406.60 L447.68,406.31 L448.00,406.00 L448.32,405.68 L448.64,405.33 L448.96,404.95 L449.27,404.55 L449.59,404.12 L449.91,403.67 L450.23,403.20 L450.55,402.71 L450.87,402.20 L451.19,401.68 L451.51,401.15 L451.83,400.58 L452.15,399.98 L452.46,399.36 L452.78,398.70 L453.10,398.03 L453.42,397.32 L453.74,396.60 L454.06,395.86 L454.38,395.09 L454.70,394.29 L455.02,393.45 L455.34,392.58 L455.66,391.67 L455.97,390.71 L456.29,389.70 L456.61,388.60 L456.93,387.43 L457.25,386.20 L457.57,384.93 L457.89,383.65 L458.21,382.37 L458.53,381.09 L458.85,379.78 L459.16,378.45 L459.48,377.10 L459.80,375.74 L460.12,374.34 L460.44,372.93 L460.76,371.48 L461.08,370.00 L461.40,368.50 L461.72,366.99 L462.04,365.48 L462.35,363.97 L462.67,362.45 L462.99,360.93 L463.31,359.39 L463.63,357.83 L463.95,356.25 L464.27,354.87 L464.59,353.60 L464.91,352.18 L465.23,350.33 L465.55,347.74 L465.86,342.02 L466.18,333.63 L466.50,324.94 L466.82,315.48 L467.14,306.20 L467.46,300.56 L467.78,296.55 L468.10,295.58 L468.42,296.76 L468.74,298.62 L469.05,300.71 L469.37,303.41 L469.69,306.57 L470.01,309.96 L470.33,313.46 L470.65,317.36 L470.97,321.57 L471.29,325.88 L471.61,330.09 L471.93,334.44 L472.24,338.97 L472.56,343.14 L472.88,346.46 L473.20,348.83 L473.52,350.77 L473.84,352.53 L474.16,354.35 L474.48,356.21 L474.80,358.03 L475.12,359.82 L475.44,361.60 L475.75,363.36 L476.07,365.12 L476.39,366.85 L476.71,368.53 L477.03,370.15 L477.35,371.72 L477.67,373.24 L477.99,374.73 L478.31,376.17 L478.63,377.58 L478.94,378.95 L479.26,380.29 L479.58,381.59 L479.90,382.87 L480.22,384.10 L480.54,385.28 L480.86,386.43 L481.18,387.55 L481.50,388.65 L481.82,389.71 L482.13,390.73 L482.45,391.71 L482.77,392.62 L483.09,393.50 L483.41,394.34 L483.73,395.15 L484.05,395.93 L484.37,396.66 L484.69,397.36 L485.01,398.01 L485.33,398.64 L485.64,399.25 L485.96,399.83 L486.28,400.40 L486.60,400.93 L486.92,401.43 L487.24,401.90 L487.56,402.32 L487.88,402.71 L488.20,403.08 L488.52,403.43 L488.83,403.77 L489.15,404.09 L489.47,404.39 L489.79,404.68 L490.11,404.96 L490.43,405.22 L490.75,405.47 L491.07,405.70 L491.39,405.92 L491.71,406.13 L492.02,406.34 L492.34,406.53 L492.66,406.72 L492.98,406.89 L493.30,407.07 L493.62,407.23 L493.94,407.39 L494.26,407.54 L494.58,407.69 L494.90,407.83 L495.22,407.97 L495.53,408.11 L495.85,408.24 L496.17,408.37 L496.49,408.50 L496.81,408.62 L497.13,408.74 L497.45,408.86 L497.77,408.97 L498.09,409.08 L498.41,409.19 L498.72,409.30 L499.04,409.40 L499.36,409.49 L499.68,409.59 L500.00,409.67 L500.32,409.76 L500.64,409.83 L500.96,409.91 L501.28,410.00 L501.60,410.08 L501.91,410.16 L502.23,410.24 L502.55,410.32 L502.87,410.40 L503.19,410.47 L503.51,410.54 L503.83,410.60 L504.15,410.66 L504.47,410.70 L504.79,410.74 L505.11,410.77 L505.42,410.79 L505.74,410.80 L506.06,410.80 L506.38,410.80 L506.70,410.80 L507.02,410.80 L507.34,410.80 L507.66,410.80 L507.98,410.80 L508.30,410.80 L508.61,410.80 L508.93,410.80 L509.25,410.80 L509.57,410.80 L509.89,410.71 L510.21,410.52 L510.53,410.24 L510.85,409.89 L511.17,409.48 L511.49,409.02 L511.80,408.35 L512.12,407.33 L512.44,406.12 L512.76,404.82 L513.08,403.26 L513.40,401.50" fill="none" stroke="#111" stroke-width="1.65" stroke-dasharray="1.75 2.65" clip-path="url(#cd)"/>
<path d="M322.50,415.00 L322.64,415.00 L322.77,415.00 L322.91,415.00 L323.05,415.00 L323.19,415.00 L323.32,415.00 L323.46,415.00 L323.60,415.00 L323.73,415.00 L323.87,413.26 L324.01,402.41 L324.15,386.44 L324.28,365.53 L324.42,336.89 L324.56,332.70 L324.69,349.70 L324.83,360.16 L324.97,366.37 L325.11,368.25 L325.24,369.22 L325.38,369.85 L325.52,370.36 L325.65,370.79 L325.79,371.16 L325.93,371.48 L326.07,371.77 L326.20,372.06 L326.34,372.35 L326.48,372.67 L326.62,373.04 L326.75,373.44 L326.89,373.86 L327.03,374.28 L327.16,374.71 L327.30,375.15 L327.44,375.58 L327.58,376.02 L327.71,376.45 L327.85,376.87 L327.99,377.28 L328.12,377.68 L328.26,378.07 L328.40,378.45 L328.54,378.83 L328.67,379.20 L328.81,379.57 L328.95,379.93 L329.08,380.29 L329.22,380.65 L329.36,381.00 L329.50,381.35 L329.63,381.70 L329.77,382.04 L329.91,382.38 L330.04,382.71 L330.18,383.04 L330.32,383.37 L330.46,383.70 L330.59,384.02 L330.73,384.34 L330.87,384.66 L331.00,384.97 L331.14,385.29 L331.28,385.60 L331.42,385.91 L331.55,386.21 L331.69,386.51 L331.83,386.81 L331.96,387.11 L332.10,387.40 L332.24,387.69 L332.38,387.97 L332.51,388.26 L332.65,388.53 L332.79,388.80 L332.92,389.07 L333.06,389.33 L333.20,389.58 L333.34,389.84 L333.47,390.09 L333.61,390.33 L333.75,390.57 L333.89,390.81 L334.02,391.05 L334.16,391.28 L334.30,391.51 L334.43,391.74 L334.57,391.97 L334.71,392.19 L334.85,392.41 L334.98,392.63 L335.12,392.85 L335.26,393.06 L335.39,393.27 L335.53,393.49 L335.67,393.70 L335.81,393.90 L335.94,394.11 L336.08,394.32 L336.22,394.53 L336.35,394.73 L336.49,394.94 L336.63,395.14 L336.77,395.35 L336.90,395.55 L337.04,395.75 L337.18,395.96 L337.31,396.16 L337.45,396.36 L337.59,396.56 L337.73,396.75 L337.86,396.95 L338.00,397.14 L338.14,397.33 L338.27,397.52 L338.41,397.71 L338.55,397.89 L338.69,398.07 L338.82,398.25 L338.96,398.42 L339.10,398.59 L339.23,398.76 L339.37,398.93 L339.51,399.08 L339.65,399.24 L339.78,399.39 L339.92,399.54 L340.06,399.69 L340.19,399.83 L340.33,399.97 L340.47,400.12 L340.61,400.25 L340.74,400.39 L340.88,400.52 L341.02,400.66 L341.16,400.79 L341.29,400.92 L341.43,401.05 L341.57,401.17 L341.70,401.30 L341.84,401.42 L341.98,401.54 L342.12,401.66 L342.25,401.78 L342.39,401.89 L342.53,402.01 L342.66,402.12 L342.80,402.24 L342.94,402.35 L343.08,402.46 L343.21,402.57 L343.35,402.68 L343.49,402.79 L343.62,402.90 L343.76,403.00 L343.90,403.11 L344.04,403.21 L344.17,403.32 L344.31,403.42 L344.45,403.52 L344.58,403.62 L344.72,403.72 L344.86,403.82 L345.00,403.92 L345.13,404.02 L345.27,404.11 L345.41,404.21 L345.54,404.31 L345.68,404.40 L345.82,404.49 L345.96,404.58 L346.09,404.68 L346.23,404.77 L346.37,404.86 L346.50,404.94 L346.64,405.03 L346.78,405.12 L346.92,405.21 L347.05,405.29 L347.19,405.38 L347.33,405.46 L347.46,405.54 L347.60,405.62 L347.74,405.71 L347.88,405.79 L348.01,405.87 L348.15,405.95 L348.29,406.02 L348.43,406.10 L348.56,406.18 L348.70,406.26 L348.84,406.33 L348.97,406.41 L349.11,406.48 L349.25,406.56 L349.39,406.63 L349.52,406.70 L349.66,406.77 L349.80,406.85 L349.93,406.92 L350.07,406.99 L350.21,407.06 L350.35,407.13 L350.48,407.19 L350.62,407.26 L350.76,407.33 L350.89,407.39 L351.03,407.46 L351.17,407.52 L351.31,407.59 L351.44,407.65 L351.58,407.71 L351.72,407.77 L351.85,407.84 L351.99,407.90 L352.13,407.96 L352.27,408.02 L352.40,408.07 L352.54,408.13 L352.68,408.19 L352.81,408.25 L352.95,408.31 L353.09,408.36 L353.23,408.42 L353.36,408.47 L353.50,408.53 L353.64,408.58 L353.77,408.64 L353.91,408.69 L354.05,408.74 L354.19,408.80 L354.32,408.85 L354.46,408.90 L354.60,408.95 L354.73,409.00 L354.87,409.05 L355.01,409.10 L355.15,409.15 L355.28,409.20 L355.42,409.24 L355.56,409.29 L355.69,409.34 L355.83,409.38 L355.97,409.43 L356.11,409.47 L356.24,409.51 L356.38,409.56 L356.52,409.60 L356.66,409.65 L356.79,409.69 L356.93,409.74 L357.07,409.79 L357.20,409.83 L357.34,409.88 L357.48,409.92 L357.62,409.97 L357.75,410.01 L357.89,410.05 L358.03,410.09 L358.16,410.13 L358.30,410.17 L358.44,410.20 L358.58,410.24 L358.71,410.27 L358.85,410.30 L358.99,410.33 L359.12,410.35 L359.26,410.37 L359.40,410.39 L359.54,410.40 L359.67,410.42 L359.81,410.43 L359.95,410.44 L360.08,410.46 L360.22,410.47 L360.36,410.48 L360.50,410.49 L360.63,410.51 L360.77,410.52 L360.91,410.53 L361.04,410.54 L361.18,410.55 L361.32,410.55 L361.46,410.56 L361.59,410.57 L361.73,410.58 L361.87,410.58 L362.00,410.59 L362.14,410.59 L362.28,410.60 L362.42,410.60 L362.55,410.60 L362.69,410.60 L362.83,410.60 L362.96,410.58 L363.10,410.56 L363.24,410.54 L363.38,410.51 L363.51,410.47 L363.65,410.42 L363.79,410.37 L363.93,410.32 L364.06,410.27 L364.20,410.21 L364.34,410.15 L364.47,410.08 L364.61,410.02 L364.75,409.95 L364.89,409.89 L365.02,409.83 L365.16,409.76 L365.30,409.70 L365.43,409.64 L365.57,409.57 L365.71,409.51 L365.85,409.43 L365.98,409.36 L366.12,409.28 L366.26,409.20 L366.39,409.12 L366.53,409.04 L366.67,408.95 L366.81,408.87 L366.94,408.78 L367.08,408.69 L367.22,408.61 L367.35,408.52 L367.49,408.43 L367.63,408.34 L367.77,408.26 L367.90,408.17 L368.04,408.07 L368.18,407.97 L368.31,407.87 L368.45,407.77 L368.59,407.67 L368.73,407.56 L368.86,407.46 L369.00,407.36 L369.14,407.25 L369.27,407.15 L369.41,407.06 L369.55,406.97 L369.69,406.88 L369.82,406.80 L369.96,406.72 L370.10,406.65 L370.23,406.58 L370.37,406.52 L370.51,406.46 L370.65,406.40 L370.78,406.33 L370.92,406.27 L371.06,406.21 L371.20,406.15 L371.33,406.09 L371.47,406.04 L371.61,405.99 L371.74,405.95 L371.88,405.91 L372.02,405.87 L372.16,405.84 L372.29,405.82 L372.43,405.81 L372.57,405.80 L372.70,405.80 L372.84,405.80 L372.98,405.81 L373.12,405.81 L373.25,405.82 L373.39,405.83 L373.53,405.84 L373.66,405.85 L373.80,405.86 L373.94,405.88 L374.08,405.89 L374.21,405.90 L374.35,405.92 L374.49,405.94 L374.62,405.95 L374.76,405.97 L374.90,405.99 L375.04,406.00 L375.17,406.02 L375.31,406.05 L375.45,406.07 L375.58,406.10 L375.72,406.13 L375.86,406.17 L376.00,406.20 L376.13,406.24 L376.27,406.28 L376.41,406.32 L376.54,406.36 L376.68,406.40 L376.82,406.44 L376.96,406.49 L377.09,406.53 L377.23,406.58 L377.37,406.62 L377.50,406.67 L377.64,406.71 L377.78,406.76 L377.92,406.81 L378.05,406.86 L378.19,406.91 L378.33,406.97 L378.47,407.03 L378.60,407.08 L378.74,407.14 L378.88,407.20 L379.01,407.27 L379.15,407.33 L379.29,407.39 L379.43,407.46 L379.56,407.52 L379.70,407.58 L379.84,407.65 L379.97,407.71 L380.11,407.78 L380.25,407.84 L380.39,407.91 L380.52,407.97 L380.66,408.04 L380.80,408.10 L380.93,408.16 L381.07,408.22 L381.21,408.28 L381.35,408.34 L381.48,408.39 L381.62,408.45 L381.76,408.50 L381.89,408.56 L382.03,408.61 L382.17,408.66 L382.31,408.72 L382.44,408.77 L382.58,408.82 L382.72,408.87 L382.85,408.92 L382.99,408.97 L383.13,409.02 L383.27,409.07 L383.40,409.12 L383.54,409.17 L383.68,409.22 L383.81,409.27 L383.95,409.32 L384.09,409.37 L384.23,409.42 L384.36,409.47 L384.50,409.52 L384.64,409.57 L384.77,409.62 L384.91,409.67 L385.05,409.72 L385.19,409.77 L385.32,409.82 L385.46,409.87 L385.60,409.92 L385.74,409.98 L385.87,410.03 L386.01,410.08 L386.15,410.13 L386.28,410.19 L386.42,410.24 L386.56,410.29 L386.70,410.35 L386.83,410.40 L386.97,410.46 L387.11,410.51 L387.24,410.57 L387.38,410.62 L387.52,410.68 L387.66,410.73 L387.79,410.78 L387.93,410.84 L388.07,410.89 L388.20,410.95 L388.34,411.00 L388.48,411.05 L388.62,411.11 L388.75,411.16 L388.89,411.21 L389.03,411.26 L389.16,411.31 L389.30,411.36 L389.44,411.41 L389.58,411.46 L389.71,411.50 L389.85,411.55 L389.99,411.60 L390.12,411.64 L390.26,411.68 L390.40,411.73 L390.54,411.77 L390.67,411.82 L390.81,411.86 L390.95,411.91 L391.08,411.95 L391.22,411.99 L391.36,412.04 L391.50,412.08 L391.63,412.12 L391.77,412.16 L391.91,412.21 L392.04,412.25 L392.18,412.29 L392.32,412.33 L392.46,412.37 L392.59,412.41 L392.73,412.45 L392.87,412.49 L393.01,412.53 L393.14,412.56 L393.28,412.60 L393.42,412.64 L393.55,412.67 L393.69,412.71 L393.83,412.74 L393.97,412.77 L394.10,412.81 L394.24,412.84 L394.38,412.87 L394.51,412.90 L394.65,412.93 L394.79,412.96 L394.93,412.99 L395.06,413.01 L395.20,413.04 L395.34,413.06 L395.47,413.09 L395.61,413.11 L395.75,413.14 L395.89,413.16 L396.02,413.19 L396.16,413.21 L396.30,413.24 L396.43,413.26 L396.57,413.28 L396.71,413.31 L396.85,413.33 L396.98,413.35 L397.12,413.37 L397.26,413.40 L397.39,413.42 L397.53,413.44 L397.67,413.46 L397.81,413.48 L397.94,413.50 L398.08,413.52 L398.22,413.54 L398.35,413.56 L398.49,413.58 L398.63,413.60 L398.77,413.62 L398.90,413.64 L399.04,413.66 L399.18,413.67 L399.31,413.69 L399.45,413.71 L399.59,413.73 L399.73,413.75 L399.86,413.76 L400.00,413.78 L400.14,413.80 L400.28,413.81 L400.41,413.83 L400.55,413.84 L400.69,413.86 L400.82,413.88 L400.96,413.89 L401.10,413.91 L401.24,413.92 L401.37,413.94 L401.51,413.95 L401.65,413.96 L401.78,413.98 L401.92,413.99 L402.06,414.01 L402.20,414.02 L402.33,414.03 L402.47,414.05 L402.61,414.06 L402.74,414.07 L402.88,414.09 L403.02,414.10 L403.16,414.11 L403.29,414.13 L403.43,414.14 L403.57,414.15 L403.70,414.16 L403.84,414.18 L403.98,414.19 L404.12,414.20 L404.25,414.21 L404.39,414.23 L404.53,414.24 L404.66,414.25 L404.80,414.26 L404.94,414.27 L405.08,414.29 L405.21,414.30 L405.35,414.31 L405.49,414.32 L405.62,414.33 L405.76,414.34 L405.90,414.35 L406.04,414.36 L406.17,414.38 L406.31,414.39 L406.45,414.40 L406.58,414.41 L406.72,414.42 L406.86,414.43 L407.00,414.44 L407.13,414.45 L407.27,414.46 L407.41,414.46 L407.55,414.47 L407.68,414.48 L407.82,414.49 L407.96,414.50 L408.09,414.51 L408.23,414.52 L408.37,414.52 L408.51,414.53 L408.64,414.54 L408.78,414.55 L408.92,414.55 L409.05,414.56 L409.19,414.57 L409.33,414.57 L409.47,414.58 L409.60,414.58 L409.74,414.59 L409.88,414.60 L410.01,414.60 L410.15,414.61 L410.29,414.61 L410.43,414.62 L410.56,414.62 L410.70,414.63 L410.84,414.63 L410.97,414.64 L411.11,414.64 L411.25,414.65 L411.39,414.65 L411.52,414.66 L411.66,414.66 L411.80,414.67 L411.93,414.67 L412.07,414.67 L412.21,414.68 L412.35,414.68 L412.48,414.69 L412.62,414.69 L412.76,414.70 L412.89,414.70 L413.03,414.71 L413.17,414.71 L413.31,414.71 L413.44,414.72 L413.58,414.72 L413.72,414.73 L413.85,414.73 L413.99,414.73 L414.13,414.74 L414.27,414.74 L414.40,414.75 L414.54,414.75 L414.68,414.75 L414.82,414.76 L414.95,414.76 L415.09,414.76 L415.23,414.77 L415.36,414.77 L415.50,414.77 L415.64,414.77 L415.78,414.78 L415.91,414.78 L416.05,414.78 L416.19,414.78 L416.32,414.79 L416.46,414.79 L416.60,414.79 L416.74,414.79 L416.87,414.79 L417.01,414.79 L417.15,414.80 L417.28,414.80 L417.42,414.80 L417.56,414.80 L417.70,414.80 L417.83,414.80 L417.97,414.80 L418.11,414.80 L418.24,414.77 L418.38,414.35 L418.52,413.61 L418.66,412.73 L418.79,411.94 L418.93,411.41 L419.07,411.00 L419.20,410.59 L419.34,410.21 L419.48,409.87 L419.62,409.59 L419.75,409.37 L419.89,409.23 L420.03,409.20 L420.16,409.22 L420.30,409.26 L420.44,409.32 L420.58,409.39 L420.71,409.48 L420.85,409.58 L420.99,409.69 L421.12,409.80 L421.26,409.91 L421.40,410.02 L421.54,410.12 L421.67,410.22 L421.81,410.31 L421.95,410.39 L422.08,410.47 L422.22,410.55 L422.36,410.63 L422.50,410.72 L422.63,410.80 L422.77,410.88 L422.91,410.97 L423.05,411.05 L423.18,411.13 L423.32,411.21 L423.46,411.29 L423.59,411.37 L423.73,411.45 L423.87,411.53 L424.01,411.60 L424.14,411.67 L424.28,411.75 L424.42,411.82 L424.55,411.88 L424.69,411.95 L424.83,412.01 L424.97,412.08 L425.10,412.14 L425.24,412.20 L425.38,412.26 L425.51,412.32 L425.65,412.38 L425.79,412.44 L425.93,412.50 L426.06,412.56 L426.20,412.62 L426.34,412.68 L426.47,412.73 L426.61,412.79 L426.75,412.84 L426.89,412.89 L427.02,412.95 L427.16,413.00 L427.30,413.04 L427.43,413.09 L427.57,413.14 L427.71,413.18 L427.85,413.22 L427.98,413.26 L428.12,413.30 L428.26,413.34 L428.39,413.37 L428.53,413.41 L428.67,413.44 L428.81,413.47 L428.94,413.50 L429.08,413.53 L429.22,413.56 L429.35,413.59 L429.49,413.62 L429.63,413.65 L429.77,413.68 L429.90,413.71 L430.04,413.74 L430.18,413.77 L430.32,413.79 L430.45,413.82 L430.59,413.85 L430.73,413.87 L430.86,413.90 L431.00,413.92 L431.14,413.95 L431.28,413.97 L431.41,413.99 L431.55,414.02 L431.69,414.04 L431.82,414.06 L431.96,414.08 L432.10,414.10 L432.24,414.12 L432.37,414.14 L432.51,414.16 L432.65,414.17 L432.78,414.19 L432.92,414.20 L433.06,414.22 L433.20,414.23 L433.33,414.25 L433.47,414.26 L433.61,414.27 L433.74,414.28 L433.88,414.29 L434.02,414.30 L434.16,414.31 L434.29,414.32 L434.43,414.33 L434.57,414.34 L434.70,414.34 L434.84,414.35 L434.98,414.36 L435.12,414.37 L435.25,414.38 L435.39,414.39 L435.53,414.39 L435.66,414.40 L435.80,414.41 L435.94,414.42 L436.08,414.42 L436.21,414.43 L436.35,414.44 L436.49,414.45 L436.62,414.45 L436.76,414.46 L436.90,414.47 L437.04,414.48 L437.17,414.48 L437.31,414.49 L437.45,414.50 L437.59,414.50 L437.72,414.51 L437.86,414.52 L438.00,414.52 L438.13,414.53 L438.27,414.54 L438.41,414.54 L438.55,414.55 L438.68,414.55 L438.82,414.56 L438.96,414.57 L439.09,414.57 L439.23,414.58 L439.37,414.58 L439.51,414.59 L439.64,414.59 L439.78,414.60 L439.92,414.60 L440.05,414.61 L440.19,414.61 L440.33,414.62 L440.47,414.62 L440.60,414.63 L440.74,414.63 L440.88,414.64 L441.01,414.64 L441.15,414.64 L441.29,414.65 L441.43,414.65 L441.56,414.65 L441.70,414.66 L441.84,414.66 L441.97,414.66 L442.11,414.67 L442.25,414.67 L442.39,414.67 L442.52,414.68 L442.66,414.68 L442.80,414.68 L442.93,414.68 L443.07,414.69 L443.21,414.69 L443.35,414.69 L443.48,414.69 L443.62,414.69 L443.76,414.69 L443.89,414.70 L444.03,414.70 L444.17,414.70 L444.31,414.70 L444.44,414.70 L444.58,414.70 L444.72,414.70 L444.86,414.70 L444.99,414.70 L445.13,414.70 L445.27,414.70 L445.40,414.70 L445.54,414.70 L445.68,414.70 L445.82,414.70 L445.95,414.70 L446.09,414.70 L446.23,414.70 L446.36,414.70 L446.50,414.70 L446.64,414.70 L446.78,414.70 L446.91,414.70 L447.05,414.70 L447.19,414.70 L447.32,414.70 L447.46,414.70 L447.60,414.70 L447.74,414.70 L447.87,414.70 L448.01,414.70 L448.15,414.70 L448.28,414.70 L448.42,414.70 L448.56,414.70 L448.70,414.70 L448.83,414.70 L448.97,414.70 L449.11,414.70 L449.24,414.70 L449.38,414.70 L449.52,414.70 L449.66,414.70 L449.79,414.70 L449.93,414.70 L450.07,414.70 L450.20,414.70 L450.34,414.70 L450.48,414.70 L450.62,414.70 L450.75,414.70 L450.89,414.70 L451.03,414.70 L451.16,414.70 L451.30,414.70 L451.44,414.70 L451.58,414.70 L451.71,414.70 L451.85,414.70 L451.99,414.70 L452.13,414.70 L452.26,414.70 L452.40,414.70 L452.54,414.70 L452.67,414.70 L452.81,414.70 L452.95,414.70 L453.09,414.70 L453.22,414.70 L453.36,414.70 L453.50,414.70 L453.63,414.70 L453.77,414.70 L453.91,414.70 L454.05,414.70 L454.18,414.70 L454.32,414.70 L454.46,414.70 L454.59,414.70 L454.73,414.70 L454.87,414.70 L455.01,414.70 L455.14,414.70 L455.28,414.70 L455.42,414.70 L455.55,414.70 L455.69,414.70 L455.83,414.70 L455.97,414.70 L456.10,414.70 L456.24,414.70 L456.38,414.70 L456.51,414.70 L456.65,414.70 L456.79,414.70 L456.93,414.70 L457.06,414.70 L457.20,414.70 L457.34,414.70 L457.47,414.70 L457.61,414.70 L457.75,414.70 L457.89,414.70 L458.02,414.70 L458.16,414.70 L458.30,414.70 L458.43,414.70 L458.57,414.70 L458.71,414.70 L458.85,414.70 L458.98,414.70 L459.12,414.70 L459.26,414.70 L459.40,414.70 L459.53,414.70 L459.67,414.70 L459.81,414.70 L459.94,414.70 L460.08,414.70 L460.22,414.70 L460.36,414.70 L460.49,414.70 L460.63,414.70 L460.77,414.70 L460.90,414.70 L461.04,414.70 L461.18,414.70 L461.32,414.70 L461.45,414.70 L461.59,414.70 L461.73,414.70 L461.86,414.70 L462.00,414.70 L462.14,414.70 L462.28,414.70 L462.41,414.70 L462.55,414.70 L462.69,414.70 L462.82,414.70 L462.96,414.70 L463.10,414.70 L463.24,414.70 L463.37,414.70 L463.51,414.70 L463.65,414.70 L463.78,414.70 L463.92,414.70 L464.06,414.70 L464.20,414.70 L464.33,414.70 L464.47,414.70 L464.61,414.70 L464.74,414.70 L464.88,414.70 L465.02,414.70 L465.16,414.70 L465.29,414.70 L465.43,414.70 L465.57,414.25 L465.70,411.22 L465.84,406.83 L465.98,402.33 L466.12,396.62 L466.25,390.07 L466.39,383.25 L466.53,376.76 L466.67,371.20 L466.80,366.62 L466.94,362.12 L467.08,357.88 L467.21,354.14 L467.35,351.15 L467.49,349.12 L467.63,347.81 L467.76,346.70 L467.90,345.98 L468.04,345.82 L468.17,346.24 L468.31,347.03 L468.45,347.99 L468.59,348.91 L468.72,349.75 L468.86,350.64 L469.00,351.56 L469.13,352.51 L469.27,353.46 L469.41,354.39 L469.55,355.30 L469.68,356.19 L469.82,357.08 L469.96,357.97 L470.09,358.85 L470.23,359.72 L470.37,360.59 L470.51,361.44 L470.64,362.28 L470.78,363.12 L470.92,363.95 L471.05,364.78 L471.19,365.60 L471.33,366.40 L471.47,367.19 L471.60,367.97 L471.74,368.72 L471.88,369.46 L472.01,370.19 L472.15,370.91 L472.29,371.61 L472.43,372.30 L472.56,372.98 L472.70,373.65 L472.84,374.31 L472.97,374.95 L473.11,375.58 L473.25,376.21 L473.39,376.82 L473.52,377.43 L473.66,378.03 L473.80,378.62 L473.94,379.20 L474.07,379.77 L474.21,380.33 L474.35,380.89 L474.48,381.44 L474.62,381.98 L474.76,382.52 L474.90,383.05 L475.03,383.58 L475.17,384.11 L475.31,384.62 L475.44,385.13 L475.58,385.62 L475.72,386.11 L475.86,386.58 L475.99,387.04 L476.13,387.48 L476.27,387.91 L476.40,388.32 L476.54,388.73 L476.68,389.13 L476.82,389.52 L476.95,389.90 L477.09,390.28 L477.23,390.65 L477.36,391.01 L477.50,391.37 L477.64,391.72 L477.78,392.06 L477.91,392.40 L478.05,392.74 L478.19,393.07 L478.32,393.39 L478.46,393.71 L478.60,394.03 L478.74,394.34 L478.87,394.65 L479.01,394.96 L479.15,395.26 L479.28,395.56 L479.42,395.86 L479.56,396.15 L479.70,396.44 L479.83,396.72 L479.97,397.00 L480.11,397.28 L480.24,397.55 L480.38,397.81 L480.52,398.08 L480.66,398.33 L480.79,398.58 L480.93,398.83 L481.07,399.07 L481.21,399.31 L481.34,399.54 L481.48,399.77 L481.62,399.99 L481.75,400.21 L481.89,400.43 L482.03,400.65 L482.17,400.86 L482.30,401.07 L482.44,401.27 L482.58,401.47 L482.71,401.67 L482.85,401.87 L482.99,402.07 L483.13,402.26 L483.26,402.45 L483.40,402.63 L483.54,402.82 L483.67,403.00 L483.81,403.18 L483.95,403.36 L484.09,403.53 L484.22,403.70 L484.36,403.87 L484.50,404.04 L484.63,404.21 L484.77,404.38 L484.91,404.55 L485.05,404.71 L485.18,404.87 L485.32,405.03 L485.46,405.19 L485.59,405.35 L485.73,405.51 L485.87,405.66 L486.01,405.81 L486.14,405.96 L486.28,406.11 L486.42,406.25 L486.55,406.40 L486.69,406.54 L486.83,406.68 L486.97,406.81 L487.10,406.95 L487.24,407.08 L487.38,407.21 L487.51,407.33 L487.65,407.46 L487.79,407.58 L487.93,407.70 L488.06,407.82 L488.20,407.93 L488.34,408.05 L488.47,408.16 L488.61,408.28 L488.75,408.39 L488.89,408.50 L489.02,408.61 L489.16,408.71 L489.30,408.82 L489.44,408.92 L489.57,409.03 L489.71,409.13 L489.85,409.23 L489.98,409.32 L490.12,409.42 L490.26,409.52 L490.40,409.61 L490.53,409.70 L490.67,409.79 L490.81,409.88 L490.94,409.97 L491.08,410.05 L491.22,410.13 L491.36,410.22 L491.49,410.30 L491.63,410.37 L491.77,410.45 L491.90,410.53 L492.04,410.61 L492.18,410.68 L492.32,410.76 L492.45,410.83 L492.59,410.90 L492.73,410.97 L492.86,411.05 L493.00,411.12 L493.14,411.18 L493.28,411.25 L493.41,411.32 L493.55,411.39 L493.69,411.45 L493.82,411.52 L493.96,411.58 L494.10,411.64 L494.24,411.71 L494.37,411.77 L494.51,411.83 L494.65,411.88 L494.78,411.94 L494.92,412.00 L495.06,412.05 L495.20,412.11 L495.33,412.16 L495.47,412.21 L495.61,412.26 L495.74,412.31 L495.88,412.36 L496.02,412.41 L496.16,412.45 L496.29,412.50 L496.43,412.54 L496.57,412.59 L496.71,412.63 L496.84,412.67 L496.98,412.72 L497.12,412.76 L497.25,412.80 L497.39,412.84 L497.53,412.88 L497.67,412.92 L497.80,412.96 L497.94,413.00 L498.08,413.04 L498.21,413.07 L498.35,413.11 L498.49,413.14 L498.63,413.18 L498.76,413.21 L498.90,413.25 L499.04,413.28 L499.17,413.31 L499.31,413.35 L499.45,413.38 L499.59,413.41 L499.72,413.44 L499.86,413.47 L500.00,413.50 L500.13,413.53 L500.27,413.55 L500.41,413.58 L500.55,413.61 L500.68,413.64 L500.82,413.66 L500.96,413.69 L501.09,413.71 L501.23,413.74 L501.37,413.76 L501.51,413.79 L501.64,413.81 L501.78,413.84 L501.92,413.86 L502.05,413.88 L502.19,413.91 L502.33,413.93 L502.47,413.95 L502.60,413.97 L502.74,414.00 L502.88,414.02 L503.01,414.04 L503.15,414.06 L503.29,414.08 L503.43,414.10 L503.56,414.12 L503.70,414.14 L503.84,414.16 L503.98,414.18 L504.11,414.20 L504.25,414.22 L504.39,414.23 L504.52,414.25 L504.66,414.27 L504.80,414.29 L504.94,414.30 L505.07,414.32 L505.21,414.34 L505.35,414.35 L505.48,414.37 L505.62,414.38 L505.76,414.40 L505.90,414.41 L506.03,414.42 L506.17,414.44 L506.31,414.45 L506.44,414.46 L506.58,414.48 L506.72,414.49 L506.86,414.50 L506.99,414.51 L507.13,414.52 L507.27,414.53 L507.40,414.54 L507.54,414.55 L507.68,414.57 L507.82,414.58 L507.95,414.59 L508.09,414.60 L508.23,414.61 L508.36,414.62 L508.50,414.63 L508.64,414.64 L508.78,414.65 L508.91,414.66 L509.05,414.67 L509.19,414.67 L509.32,414.68 L509.46,414.69 L509.60,414.70 L509.74,414.72 L509.87,414.73 L510.01,414.74 L510.15,414.75 L510.28,414.76 L510.42,414.77 L510.56,414.78 L510.70,414.79 L510.83,414.80 L510.97,414.82 L511.11,414.83 L511.25,414.85 L511.38,414.87 L511.52,414.88 L511.66,414.89 L511.79,414.90 L511.93,414.28 L512.07,400.36 L512.21,379.19 L512.34,346.97 L512.48,333.12 L512.62,362.08 L512.75,388.31 L512.89,408.21 L513.03,415.00 L513.17,415.00 L513.30,415.00 L513.44,415.00 L513.58,415.00 L513.71,415.00 L513.85,415.00 L513.99,415.00 L514.13,415.00 L514.26,415.00 L514.40,415.00" fill="none" stroke="#0b55a8" stroke-width="1.6" stroke-linejoin="round" clip-path="url(#cd)"/>
<rect x="322.3" y="260.5" width="192.10" height="154.70" fill="none" stroke="#363636" stroke-width="1.1"/>
<path d="M322.30,415.2v-2.6M370.32,415.2v-2.6M418.35,415.2v-2.6M466.38,415.2v-2.6M514.40,415.2v-2.6M346.31,415.2v-1.4M394.34,415.2v-1.4M442.36,415.2v-1.4M490.39,415.2v-1.4M322.3,415.20h2.6M322.3,363.63h2.6M322.3,312.07h2.6M322.3,260.50h2.6M322.3,389.42h1.4M322.3,337.85h1.4M322.3,286.28h1.4M514.4,415.20h-2.6M514.4,384.26h-2.6M514.4,353.32h-2.6M514.4,322.38h-2.6M514.4,291.44h-2.6M514.4,260.50h-2.6M514.4,399.73h-1.4M514.4,368.79h-1.4M514.4,337.85h-1.4M514.4,306.91h-1.4M514.4,275.97h-1.4" stroke="#363636" stroke-width="0.9" fill="none"/>
<text x="318.60" y="418.90" font-size="12.6" text-anchor="end" font-weight="normal" fill="#1a1a1a" stroke="#1a1a1a" stroke-width="0.24">0</text>
<text x="318.60" y="367.33" font-size="12.6" text-anchor="end" font-weight="normal" fill="#1a1a1a" stroke="#1a1a1a" stroke-width="0.24">1</text>
<text x="318.60" y="315.77" font-size="12.6" text-anchor="end" font-weight="normal" fill="#1a1a1a" stroke="#1a1a1a" stroke-width="0.24">2</text>
<text x="318.60" y="264.20" font-size="12.6" text-anchor="end" font-weight="normal" fill="#1a1a1a" stroke="#1a1a1a" stroke-width="0.24">3</text>
<text x="517.80" y="418.10" font-size="12.6" text-anchor="start" font-weight="normal" fill="#1a1a1a" stroke="#1a1a1a" stroke-width="0.24">0</text>
<text x="517.80" y="387.16" font-size="12.6" text-anchor="start" font-weight="normal" fill="#1a1a1a" stroke="#1a1a1a" stroke-width="0.24">1</text>
<text x="517.80" y="356.22" font-size="12.6" text-anchor="start" font-weight="normal" fill="#1a1a1a" stroke="#1a1a1a" stroke-width="0.24">2</text>
<text x="517.80" y="325.28" font-size="12.6" text-anchor="start" font-weight="normal" fill="#1a1a1a" stroke="#1a1a1a" stroke-width="0.24">3</text>
<text x="517.80" y="294.34" font-size="12.6" text-anchor="start" font-weight="normal" fill="#1a1a1a" stroke="#1a1a1a" stroke-width="0.24">4</text>
<text x="517.80" y="263.40" font-size="12.6" text-anchor="start" font-weight="normal" fill="#1a1a1a" stroke="#1a1a1a" stroke-width="0.24">5</text>
<text x="322.80" y="428.00" font-size="12.6" text-anchor="middle" font-weight="normal" fill="#1a1a1a" stroke="#1a1a1a" stroke-width="0.24">-540</text>
<text x="370.82" y="428.00" font-size="12.6" text-anchor="middle" font-weight="normal" fill="#1a1a1a" stroke="#1a1a1a" stroke-width="0.24">-360</text>
<text x="418.85" y="428.00" font-size="12.6" text-anchor="middle" font-weight="normal" fill="#1a1a1a" stroke="#1a1a1a" stroke-width="0.24">-180</text>
<text x="466.88" y="428.00" font-size="12.6" text-anchor="middle" font-weight="normal" fill="#1a1a1a" stroke="#1a1a1a" stroke-width="0.24">0</text>
<text x="514.90" y="428.00" font-size="12.6" text-anchor="middle" font-weight="normal" fill="#1a1a1a" stroke="#1a1a1a" stroke-width="0.24">180</text>
<text x="355.40" y="449.30" font-size="13.08" text-anchor="start" font-weight="normal" fill="#1a1a1a" stroke="#1a1a1a" stroke-width="0.24">Crank angle/°CA aTDC</text>
<text x="301.30" y="385.00" font-size="13.0" text-anchor="start" font-weight="normal" fill="#1a1a1a" stroke="#1a1a1a" stroke-width="0.24" transform="rotate(-90 301.30 385.00)">Ion current signal/V</text>
<text x="538.40" y="397.90" font-size="13.05" text-anchor="start" font-weight="normal" fill="#1a1a1a" stroke="#1a1a1a" stroke-width="0.24" transform="rotate(-90 538.40 397.90)">Cylinder pressure/MPa</text>
<line x1="333.7" y1="276.2" x2="356.4" y2="276.2" stroke="#0b55a8" stroke-width="1.5"/>
<line x1="334.2" y1="288.5" x2="356.4" y2="288.5" stroke="#111" stroke-width="1.5" stroke-dasharray="1.7 2.9"/>
<text x="359.60" y="279.80" font-size="10.35" text-anchor="start" font-weight="normal" fill="#1a1a1a" stroke="#1a1a1a" stroke-width="0.24">Ion current signal</text>
<text x="359.60" y="292.20" font-size="10.35" text-anchor="start" font-weight="normal" fill="#1a1a1a" stroke="#1a1a1a" stroke-width="0.24">Cylinder pressure</text>
<text x="329.80" y="325.90" font-size="8.66" text-anchor="start" font-weight="bold" fill="#0b55a8" stroke="#0b55a8" stroke-width="0.16">Discharge interference</text>
<line x1="328.50" y1="341.50" x2="337.51" y2="333.79" stroke="#0b55a8" stroke-width="1.2"/>
<polygon points="341.00,330.80 337.85,335.73 337.20,334.05 335.64,333.15" fill="#0b55a8"/>
<text x="455.60" y="279.00" font-size="8.66" text-anchor="start" font-weight="bold" fill="#0b55a8" stroke="#0b55a8" stroke-width="0.16">Energy storage</text>
<text x="455.60" y="289.40" font-size="8.66" text-anchor="start" font-weight="bold" fill="#0b55a8" stroke="#0b55a8" stroke-width="0.16">interference</text>
<line x1="511.60" y1="343.20" x2="492.76" y2="297.55" stroke="#0b55a8" stroke-width="1.2"/>
<polygon points="491.00,293.30 494.71,297.83 492.91,297.92 491.57,299.12" fill="#0b55a8"/>
<text x="365.20" y="357.80" font-size="8.66" text-anchor="start" font-weight="bold" fill="#0b55a8" stroke="#0b55a8" stroke-width="0.16">Peak of main combustion</text>
<line x1="466.30" y1="379.20" x2="458.12" y2="369.77" stroke="#0b55a8" stroke-width="1.2"/>
<polygon points="455.10,366.30 460.06,369.41 458.38,370.08 457.49,371.64" fill="#0b55a8"/>
<text x="378.90" y="388.60" font-size="8.66" text-anchor="start" font-weight="bold" fill="#0b55a8" stroke="#0b55a8" stroke-width="0.16">Peak of NVO</text>
<line x1="375.10" y1="403.90" x2="383.19" y2="396.59" stroke="#0b55a8" stroke-width="1.2"/>
<polygon points="386.60,393.50 383.59,398.52 382.89,396.85 381.31,396.00" fill="#0b55a8"/>
<text x="341.00" y="384.40" font-size="8.66" text-anchor="start" font-weight="bold" fill="#f01414" stroke="#f01414" stroke-width="0.16">Offset</text>
<line x1="356.20" y1="403.40" x2="354.06" y2="392.22" stroke="#f01414" stroke-width="1.2"/>
<polygon points="353.20,387.70 355.92,392.88 354.14,392.61 352.58,393.52" fill="#f01414"/>
<circle cx="362.5" cy="410.1" r="9.1" fill="none" stroke="#f01414" stroke-width="1.3" stroke-dasharray="3.2 2"/>
<text x="407.00" y="481.80" font-size="12.3" fill="#111" stroke="#111" stroke-width="0.2"><tspan>(</tspan><tspan font-weight="bold">d</tspan><tspan>)</tspan></text>
</svg>
</body></html>
